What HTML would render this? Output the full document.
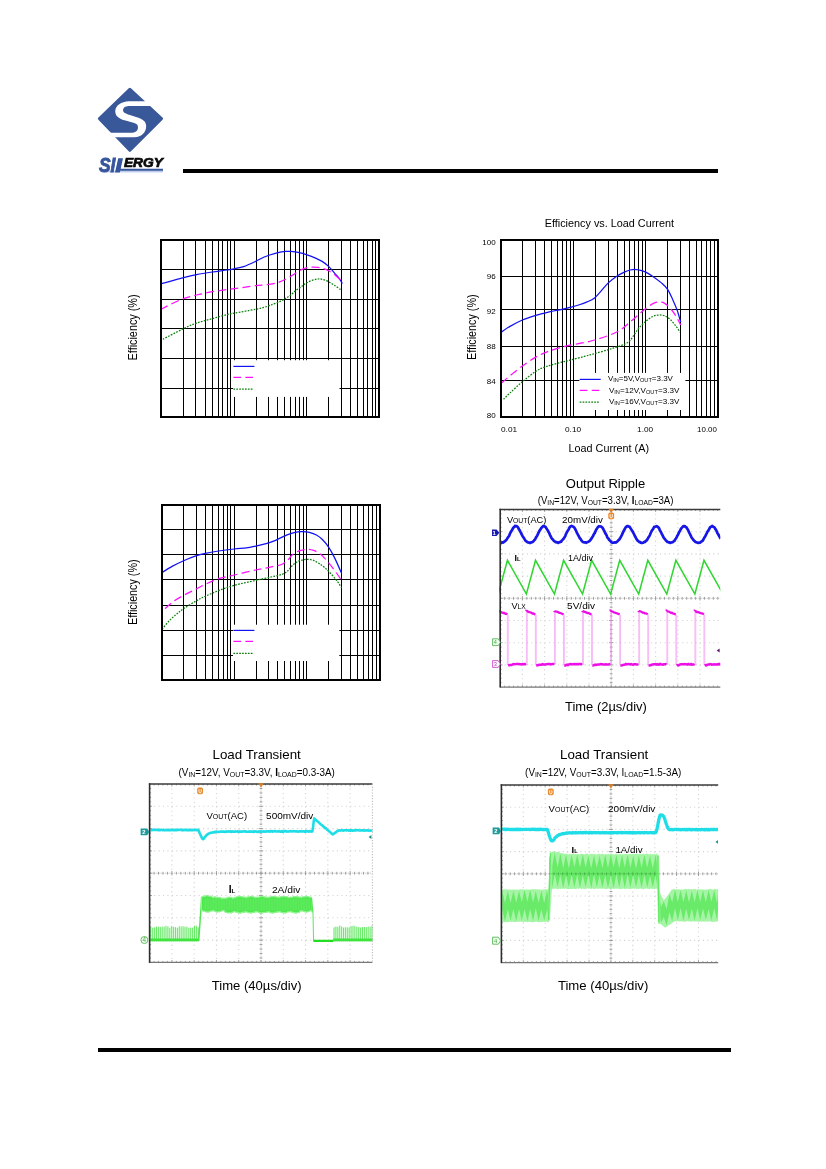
<!DOCTYPE html>
<html><head><meta charset="utf-8"><title>Typical Performance Characteristics</title>
<style>html,body{margin:0;padding:0;background:#fff}body{width:826px;height:1169px;overflow:hidden;font-family:"Liberation Sans",sans-serif}svg{display:block;will-change:transform;opacity:0.999}text{font-family:"Liberation Sans",sans-serif}</style>
</head><body>
<svg width="826" height="1169" viewBox="0 0 826 1169">
<rect x="0" y="0" width="826" height="1169" fill="#fff"/>
<rect x="183" y="169" width="535" height="4" fill="#000"/>
<rect x="98" y="1048" width="633" height="4" fill="#000"/>
<g id="logo">
<path d="M129.87 89.53L161.43 118.57L129.87 150.21L99.53 118.57Z" fill="#38589a" stroke="#38589a" stroke-width="3.2" stroke-linejoin="round"/>
<path d="M161.26 101.13L129 101.13C121.16 101.56 115.49 105.05 115.23 111.16C115.23 117.26 121.16 119.44 126.39 120.75L134.23 122.93C137.72 123.97 138.33 125.98 137.89 128.59C137.37 131.64 134.23 132.78 131.62 132.78L98.49 132.78L98.49 137.31L134.23 137.31C142.08 136.87 146.18 132.08 146.18 125.98C146.18 120.75 141.21 118.57 136.85 117.26L129.87 115.08C124.64 113.6 122.72 112.03 123.07 109.85C123.42 106.8 126.39 105.92 129.87 105.92L161.26 105.92Z" fill="#fff"/>
<rect x="104" y="170.5" width="59" height="1.9" fill="#bccbea"/>
<path d="M115 172.4L118.2 158.2H123L120.7 168.7H163V170.7H120.2L119.8 172.4Z" fill="#36559c"/>
<text x="98.9" y="172.3" font-size="20" textLength="16.4" lengthAdjust="spacingAndGlyphs" font-weight="bold" font-style="italic" fill="#36559c" stroke="#36559c" stroke-width="0.9">SI</text>
<text x="123.9" y="167.1" font-size="12.4" textLength="39" lengthAdjust="spacingAndGlyphs" font-weight="bold" font-style="italic" fill="#0a0a0a" stroke="#0a0a0a" stroke-width="0.7">ERGY</text>
</g>
<g>
<path d="M183.07 240V417M195.97 240V417M205.13 240V417M212.23 240V417M218.04 240V417M222.95 240V417M227.2 240V417M230.95 240V417M234.3 240V417M256.06 240V417M268.8 240V417M277.83 240V417M284.84 240V417M290.56 240V417M295.4 240V417M299.59 240V417M303.29 240V417M306.6 240V417M328.45 240V417M341.24 240V417M350.31 240V417M357.35 240V417M363.09 240V417M367.95 240V417M372.16 240V417M375.88 240V417M161 269.6H379.2M161 299.3H379.2M161 328.9H379.2M161 358.6H379.2M161 388.1H379.2" stroke="#000" stroke-width="1" fill="none" shape-rendering="crispEdges"/>
<path d="M160.7 283.9C164.52 282.85 177.62 279.15 183.6 277.6C189.58 276.05 191.8 275.53 196.6 274.6C201.4 273.67 207.32 272.77 212.4 272C217.48 271.23 223.38 270.57 227.1 270C230.82 269.43 231.95 269.17 234.7 268.6C237.45 268.03 240.12 267.8 243.6 266.6C247.08 265.4 252.27 262.95 255.6 261.4C258.93 259.85 261.25 258.37 263.6 257.3C265.95 256.23 267.32 255.78 269.7 255C272.08 254.22 275.23 253.2 277.9 252.6C280.57 252 283.57 251.6 285.7 251.4C287.83 251.2 288.43 251.2 290.7 251.4C292.97 251.6 296.68 252.07 299.3 252.6C301.92 253.13 303.78 253.72 306.4 254.6C309.02 255.48 312.38 256.77 315 257.9C317.62 259.03 319.83 259.98 322.1 261.4C324.37 262.82 326.45 264.37 328.6 266.4C330.75 268.43 333.22 271.57 335 273.6C336.78 275.63 338.07 276.93 339.3 278.6C340.53 280.27 341.88 282.77 342.4 283.6" stroke="#1212f5" stroke-width="1.25" fill="none"/>
<path d="M160.7 309.6C162.13 308.83 165.48 306.83 169.3 305C173.12 303.17 179.05 300.27 183.6 298.6C188.15 296.93 191.8 296.15 196.6 295C201.4 293.85 207.32 292.6 212.4 291.7C217.48 290.8 223.38 290.12 227.1 289.6C230.82 289.08 229.95 289.25 234.7 288.6C239.45 287.95 250.55 286.33 255.6 285.7C260.65 285.07 262 285.15 265 284.8C268 284.45 271.22 284.05 273.6 283.6C275.98 283.15 277.28 282.82 279.3 282.1C281.32 281.38 283.8 280.25 285.7 279.3C287.6 278.35 289.03 277.43 290.7 276.4C292.37 275.37 294.15 274.12 295.7 273.1C297.25 272.08 298.22 271.17 300 270.3C301.78 269.43 304.38 268.43 306.4 267.9C308.42 267.37 310.18 267.18 312.1 267.1C314.02 267.02 315.98 267.15 317.9 267.4C319.82 267.65 321.82 268.05 323.6 268.6C325.38 269.15 326.7 269.63 328.6 270.7C330.5 271.77 332.75 273.22 335 275C337.25 276.78 340.92 280.33 342.1 281.4" stroke="#ff10ff" stroke-width="1.25" fill="none" stroke-dasharray="8 4.2"/>
<path d="M162.9 339.3C166.35 337.52 177.98 331.3 183.6 328.6C189.22 325.9 191.8 324.77 196.6 323.1C201.4 321.43 207.32 320.02 212.4 318.6C217.48 317.18 223.38 315.52 227.1 314.6C230.82 313.68 229.95 313.98 234.7 313.1C239.45 312.22 250.55 310.3 255.6 309.3C260.65 308.3 262 307.98 265 307.1C268 306.22 270.98 305 273.6 304C276.22 303 278.68 302.05 280.7 301.1C282.72 300.15 284.03 299.32 285.7 298.3C287.37 297.28 289.03 296.27 290.7 295C292.37 293.73 293.72 292.25 295.7 290.7C297.68 289.15 300.82 286.97 302.6 285.7C304.38 284.43 304.82 284 306.4 283.1C307.98 282.2 310.18 280.98 312.1 280.3C314.02 279.62 316.23 279.17 317.9 279C319.57 278.83 320.32 278.85 322.1 279.3C323.88 279.75 326.45 280.63 328.6 281.7C330.75 282.77 332.98 284.38 335 285.7C337.02 287.02 339.75 288.95 340.7 289.6" stroke="#0a800a" stroke-width="1.25" fill="none" stroke-dasharray="1.7 1.3"/>
<rect x="233" y="360.2" width="106.5" height="36.7" fill="#fff"/>
<path d="M233.4 366.4h21" stroke="#1212f5" stroke-width="1.2"/>
<path d="M233.4 377.3h7.6M245.4 377.3h7.6" stroke="#ff10ff" stroke-width="1.2"/>
<path d="M233.4 389.2h19.6" stroke="#0a800a" stroke-width="1.2" stroke-dasharray="1.7 1.2"/>
<rect x="161" y="240" width="218.2" height="177" fill="none" stroke="#000" stroke-width="2" shape-rendering="crispEdges"/>
</g>
<text x="137.3" y="360.4" font-size="12" textLength="66" lengthAdjust="spacingAndGlyphs" fill="#000" transform="rotate(-90 137.3 360.4)">Efficiency (%)</text>
<g>
<path d="M522.85 240V416.7M535.64 240V416.7M544.71 240V416.7M551.75 240V416.7M557.49 240V416.7M562.35 240V416.7M566.56 240V416.7M570.28 240V416.7M573.6 240V416.7M595.3 240V416.7M608 240V416.7M617.01 240V416.7M624 240V416.7M629.7 240V416.7M634.53 240V416.7M638.71 240V416.7M642.4 240V416.7M645.7 240V416.7M667.46 240V416.7M680.2 240V416.7M689.23 240V416.7M696.24 240V416.7M701.96 240V416.7M706.8 240V416.7M710.99 240V416.7M714.69 240V416.7M501 276.3H718M501 309.6H718M501 346.2H718M501 380.4H718" stroke="#000" stroke-width="1" fill="none" shape-rendering="crispEdges"/>
<path d="M501.4 332.1C502.83 331.15 506.5 328.42 510 326.4C513.5 324.38 518.12 321.83 522.4 320C526.68 318.17 532 316.55 535.7 315.4C539.4 314.25 541.98 313.77 544.6 313.1C547.22 312.43 548.52 312.03 551.4 311.4C554.28 310.77 558.8 309.97 561.9 309.3C565 308.63 567.22 308.12 570 307.4C572.78 306.68 575.75 305.92 578.6 305C581.45 304.08 584.43 303.08 587.1 301.9C589.77 300.72 592.22 299.77 594.6 297.9C596.98 296.03 599.12 293.2 601.4 290.7C603.68 288.2 605.8 285.28 608.3 282.9C610.8 280.52 613.73 278.2 616.4 276.4C619.07 274.6 622.03 273.17 624.3 272.1C626.57 271.03 628.27 270.47 630 270C631.73 269.53 633.2 269.3 634.7 269.3C636.2 269.3 637.17 269.53 639 270C640.83 270.47 643.38 271.03 645.7 272.1C648.02 273.17 650.28 274.6 652.9 276.4C655.52 278.2 658.95 280.75 661.4 282.9C663.85 285.05 665.68 286.45 667.6 289.3C669.52 292.15 671.32 296.55 672.9 300C674.48 303.45 675.8 306.32 677.1 310C678.4 313.68 680.1 320.08 680.7 322.1" stroke="#1212f5" stroke-width="1.25" fill="none"/>
<path d="M501.4 383.1C502.83 381.87 506.5 378.55 510 375.7C513.5 372.85 518.12 369.1 522.4 366C526.68 362.9 532 359.28 535.7 357.1C539.4 354.92 541.98 354.03 544.6 352.9C547.22 351.77 548.52 351.27 551.4 350.3C554.28 349.33 558.8 347.95 561.9 347.1C565 346.25 566.27 345.95 570 345.2C573.73 344.45 580.2 343.47 584.3 342.6C588.4 341.73 590.57 341.18 594.6 340C598.63 338.82 604.27 337.12 608.5 335.5C612.73 333.88 616.42 332.53 620 330.3C623.58 328.07 626.83 324.77 630 322.1C633.17 319.43 636.38 316.55 639 314.3C641.62 312.05 643.38 310.38 645.7 308.6C648.02 306.82 650.75 304.68 652.9 303.6C655.05 302.52 656.7 302.18 658.6 302.1C660.5 302.02 662.4 302.13 664.3 303.1C666.2 304.07 668.1 305.8 670 307.9C671.9 310 673.92 312.85 675.7 315.7C677.48 318.55 679.87 323.45 680.7 325" stroke="#ff10ff" stroke-width="1.25" fill="none" stroke-dasharray="8 4.2"/>
<path d="M503.6 399.3C504.67 398.23 506.87 395.83 510 392.9C513.13 389.97 518.12 385.28 522.4 381.7C526.68 378.12 532 373.83 535.7 371.4C539.4 368.97 541.98 368.17 544.6 367.1C547.22 366.03 548.52 365.83 551.4 365C554.28 364.17 558.8 362.9 561.9 362.1C565 361.3 566.27 361.15 570 360.2C573.73 359.25 580.2 357.5 584.3 356.4C588.4 355.3 590.6 354.72 594.6 353.6C598.6 352.48 604.67 350.78 608.3 349.7C611.93 348.62 613.73 348 616.4 347.1C619.07 346.2 622.03 345.4 624.3 344.3C626.57 343.2 628.27 342.22 630 340.5C631.73 338.78 633.2 336.1 634.7 334C636.2 331.9 637.17 330 639 327.9C640.83 325.8 643.38 323.32 645.7 321.4C648.02 319.48 650.75 317.47 652.9 316.4C655.05 315.33 656.7 315.12 658.6 315C660.5 314.88 662.4 314.98 664.3 315.7C666.2 316.42 668.1 317.63 670 319.3C671.9 320.97 674.03 323.57 675.7 325.7C677.37 327.83 679.28 331.03 680 332.1" stroke="#0a800a" stroke-width="1.25" fill="none" stroke-dasharray="1.7 1.3"/>
<rect x="579.3" y="372.9" width="106.1" height="37.1" fill="#fff"/>
<path d="M579.7 379.4h21" stroke="#1212f5" stroke-width="1.2"/>
<path d="M579.7 390.4h7.6M591.7 390.4h7.6" stroke="#ff10ff" stroke-width="1.2"/>
<path d="M579.7 402.1h19.6" stroke="#0a800a" stroke-width="1.2" stroke-dasharray="1.7 1.2"/>
<rect x="501" y="240" width="217" height="176.7" fill="none" stroke="#000" stroke-width="2" shape-rendering="crispEdges"/>
</g>
<text x="544.7" y="227.1" font-size="11" textLength="129.3" lengthAdjust="spacingAndGlyphs" fill="#000">Efficiency vs. Load Current</text>
<text x="476.1" y="360" font-size="12" textLength="65.6" lengthAdjust="spacingAndGlyphs" fill="#000" transform="rotate(-90 476.1 360)">Efficiency (%)</text>
<text x="495.6" y="245" font-size="8" text-anchor="end" fill="#000">100</text>
<text x="495.6" y="279" font-size="8" text-anchor="end" fill="#000">96</text>
<text x="495.6" y="314" font-size="8" text-anchor="end" fill="#000">92</text>
<text x="495.6" y="349" font-size="8" text-anchor="end" fill="#000">88</text>
<text x="495.6" y="384.3" font-size="8" text-anchor="end" fill="#000">84</text>
<text x="495.6" y="418" font-size="8" text-anchor="end" fill="#000">80</text>
<text x="501" y="431.9" font-size="8" textLength="16.1" lengthAdjust="spacingAndGlyphs" fill="#000">0.01</text>
<text x="565" y="431.9" font-size="8" textLength="16.1" lengthAdjust="spacingAndGlyphs" fill="#000">0.10</text>
<text x="637.1" y="431.9" font-size="8" textLength="16" lengthAdjust="spacingAndGlyphs" fill="#000">1.00</text>
<text x="697.1" y="431.9" font-size="8" textLength="19.8" lengthAdjust="spacingAndGlyphs" fill="#000">10.00</text>
<text x="568.6" y="451.6" font-size="11" textLength="80.4" lengthAdjust="spacingAndGlyphs" fill="#000">Load Current (A)</text>
<text x="607.9" y="381.1" font-size="8" textLength="65" lengthAdjust="spacingAndGlyphs" fill="#000"><tspan font-size="8">V</tspan><tspan font-size="5.6" dy="1.1">IN</tspan><tspan font-size="8" dy="-1.1">=5V,V</tspan><tspan font-size="5.6" dy="1.1">OUT</tspan><tspan font-size="8" dy="-1.1">=3.3V</tspan></text>
<text x="608.9" y="392.9" font-size="8" textLength="70.4" lengthAdjust="spacingAndGlyphs" fill="#000"><tspan font-size="8">V</tspan><tspan font-size="5.6" dy="1.1">IN</tspan><tspan font-size="8" dy="-1.1">=12V,V</tspan><tspan font-size="5.6" dy="1.1">OUT</tspan><tspan font-size="8" dy="-1.1">=3.3V</tspan></text>
<text x="608.9" y="404.3" font-size="8" textLength="70.4" lengthAdjust="spacingAndGlyphs" fill="#000"><tspan font-size="8">V</tspan><tspan font-size="5.6" dy="1.1">IN</tspan><tspan font-size="8" dy="-1.1">=16V,V</tspan><tspan font-size="5.6" dy="1.1">OUT</tspan><tspan font-size="8" dy="-1.1">=3.3V</tspan></text>
<g>
<path d="M183.76 505V680.3M196.5 505V680.3M205.53 505V680.3M212.54 505V680.3M218.26 505V680.3M223.1 505V680.3M227.29 505V680.3M230.99 505V680.3M234.3 505V680.3M256.06 505V680.3M268.8 505V680.3M277.83 505V680.3M284.84 505V680.3M290.56 505V680.3M295.4 505V680.3M299.59 505V680.3M303.29 505V680.3M306.6 505V680.3M328.7 505V680.3M341.62 505V680.3M350.79 505V680.3M357.9 505V680.3M363.72 505V680.3M368.63 505V680.3M372.89 505V680.3M376.64 505V680.3M162 529.6H380M162 554.7H380M162 579.8H380M162 605H380M162 630.2H380M162 655.3H380" stroke="#000" stroke-width="1" fill="none" shape-rendering="crispEdges"/>
<path d="M161.4 572.9C163.18 571.82 168.4 568.43 172.1 566.4C175.8 564.37 179.52 562.48 183.6 560.7C187.68 558.92 192.97 556.93 196.6 555.7C200.23 554.47 201.73 554.08 205.4 553.3C209.07 552.52 213.78 551.72 218.6 551C223.42 550.28 229.67 549.52 234.3 549C238.93 548.48 242.83 548.38 246.4 547.9C249.97 547.42 252.6 546.77 255.7 546.1C258.8 545.43 262.02 544.72 265 543.9C267.98 543.08 270.75 542.33 273.6 541.2C276.45 540.07 279.25 538.37 282.1 537.1C284.95 535.83 288.07 534.47 290.7 533.6C293.33 532.73 295.87 532.23 297.9 531.9C299.93 531.57 301 531.52 302.9 531.6C304.8 531.68 307.05 531.83 309.3 532.4C311.55 532.97 314.27 533.85 316.4 535C318.53 536.15 320.07 537.28 322.1 539.3C324.13 541.32 326.45 543.88 328.6 547.1C330.75 550.32 332.82 554.18 335 558.6C337.18 563.02 340.58 571.1 341.7 573.6" stroke="#1212f5" stroke-width="1.25" fill="none"/>
<path d="M165 608.6C166.43 607.4 170.5 603.62 173.6 601.4C176.7 599.18 180.27 597.13 183.6 595.3C186.93 593.47 189.97 592.23 193.6 590.4C197.23 588.57 201.23 586.27 205.4 584.3C209.57 582.33 213.78 580.15 218.6 578.6C223.42 577.05 228.12 576.43 234.3 575C240.48 573.57 250.58 571.13 255.7 570C260.82 568.87 262.02 568.8 265 568.2C267.98 567.6 270.75 567.05 273.6 566.4C276.45 565.75 279.72 565.37 282.1 564.3C284.48 563.23 286.23 561.55 287.9 560C289.57 558.45 290.43 556.43 292.1 555C293.77 553.57 296.1 552.23 297.9 551.4C299.7 550.57 301.23 550.35 302.9 550C304.57 549.65 306.12 549.23 307.9 549.3C309.68 549.37 311.7 549.73 313.6 550.4C315.5 551.07 317.4 551.93 319.3 553.3C321.2 554.67 322.87 556.3 325 558.6C327.13 560.9 329.95 564.37 332.1 567.1C334.25 569.83 336.3 572.73 337.9 575C339.5 577.27 341.07 579.75 341.7 580.7" stroke="#ff10ff" stroke-width="1.25" fill="none" stroke-dasharray="8 4.2"/>
<path d="M162.1 629.3C163.3 627.87 166.92 623.2 169.3 620.7C171.68 618.2 174.02 616.32 176.4 614.3C178.78 612.28 180.23 610.87 183.6 608.6C186.97 606.33 192.97 602.77 196.6 600.7C200.23 598.63 201.73 597.88 205.4 596.2C209.07 594.52 213.78 592.42 218.6 590.6C223.42 588.78 228.12 587 234.3 585.3C240.48 583.6 250.58 581.57 255.7 580.4C260.82 579.23 262.02 578.97 265 578.3C267.98 577.63 270.75 577.07 273.6 576.4C276.45 575.73 279.72 575.25 282.1 574.3C284.48 573.35 286.23 572.13 287.9 570.7C289.57 569.27 290.43 567.25 292.1 565.7C293.77 564.15 296.1 562.35 297.9 561.4C299.7 560.45 301.23 560.35 302.9 560C304.57 559.65 306.12 559.23 307.9 559.3C309.68 559.37 311.7 559.68 313.6 560.4C315.5 561.12 317.4 562.35 319.3 563.6C321.2 564.85 322.87 566 325 567.9C327.13 569.8 329.95 572.63 332.1 575C334.25 577.37 336.3 579.95 337.9 582.1C339.5 584.25 341.07 586.93 341.7 587.9" stroke="#0a800a" stroke-width="1.25" fill="none" stroke-dasharray="1.7 1.3"/>
<rect x="233" y="624.7" width="106.3" height="36.3" fill="#fff"/>
<path d="M233.4 630.4h21" stroke="#1212f5" stroke-width="1.2"/>
<path d="M233.4 641.4h7.6M245.4 641.4h7.6" stroke="#ff10ff" stroke-width="1.2"/>
<path d="M233.4 653.3h19.6" stroke="#0a800a" stroke-width="1.2" stroke-dasharray="1.7 1.2"/>
<rect x="162" y="505" width="218" height="175.3" fill="none" stroke="#000" stroke-width="1.9" shape-rendering="crispEdges"/>
</g>
<text x="137.3" y="625" font-size="12" textLength="65.6" lengthAdjust="spacingAndGlyphs" fill="#000" transform="rotate(-90 137.3 625)">Efficiency (%)</text>
<clipPath id="k1"><rect x="499.2" y="508.5" width="221.1" height="179.6"/></clipPath>
<g clip-path="url(#k1)">
<path d="M522.4 509.5V687.1M544.6 509.5V687.1M566.8 509.5V687.1M589 509.5V687.1M633.4 509.5V687.1M655.6 509.5V687.1M677.8 509.5V687.1M700 509.5V687.1" stroke="#d2d2d2" stroke-width="1.1" stroke-dasharray="1.1 3.34" fill="none"/>
<path d="M500.2 531.7H722.2M500.2 553.9H722.2M500.2 576.1H722.2M500.2 620.5H722.2M500.2 642.7H722.2M500.2 664.9H722.2" stroke="#d2d2d2" stroke-width="1.1" stroke-dasharray="1.1 3.34" fill="none"/>
<path d="M611.2 509.5V687.1M500.2 598.3H722.2" stroke="#8a8a8a" stroke-width="0.9" stroke-dasharray="1.4 0.8" fill="none" opacity="0.55"/>
<path d="M504.64 596.9v2.8M509.08 596.9v2.8M513.52 596.9v2.8M517.96 596.9v2.8M522.4 596.1v4.4M526.84 596.9v2.8M531.28 596.9v2.8M535.72 596.9v2.8M540.16 596.9v2.8M544.6 596.1v4.4M549.04 596.9v2.8M553.48 596.9v2.8M557.92 596.9v2.8M562.36 596.9v2.8M566.8 596.1v4.4M571.24 596.9v2.8M575.68 596.9v2.8M580.12 596.9v2.8M584.56 596.9v2.8M589 596.1v4.4M593.44 596.9v2.8M597.88 596.9v2.8M602.32 596.9v2.8M606.76 596.9v2.8M611.2 596.1v4.4M615.64 596.9v2.8M620.08 596.9v2.8M624.52 596.9v2.8M628.96 596.9v2.8M633.4 596.1v4.4M637.84 596.9v2.8M642.28 596.9v2.8M646.72 596.9v2.8M651.16 596.9v2.8M655.6 596.1v4.4M660.04 596.9v2.8M664.48 596.9v2.8M668.92 596.9v2.8M673.36 596.9v2.8M677.8 596.1v4.4M682.24 596.9v2.8M686.68 596.9v2.8M691.12 596.9v2.8M695.56 596.9v2.8M700 596.1v4.4M704.44 596.9v2.8M708.88 596.9v2.8M713.32 596.9v2.8M717.76 596.9v2.8M609.8 513.94h2.8M609.8 518.38h2.8M609.8 522.82h2.8M609.8 527.26h2.8M609 531.7h4.4M609.8 536.14h2.8M609.8 540.58h2.8M609.8 545.02h2.8M609.8 549.46h2.8M609 553.9h4.4M609.8 558.34h2.8M609.8 562.78h2.8M609.8 567.22h2.8M609.8 571.66h2.8M609 576.1h4.4M609.8 580.54h2.8M609.8 584.98h2.8M609.8 589.42h2.8M609.8 593.86h2.8M609 598.3h4.4M609.8 602.74h2.8M609.8 607.18h2.8M609.8 611.62h2.8M609.8 616.06h2.8M609 620.5h4.4M609.8 624.94h2.8M609.8 629.38h2.8M609.8 633.82h2.8M609.8 638.26h2.8M609 642.7h4.4M609.8 647.14h2.8M609.8 651.58h2.8M609.8 656.02h2.8M609.8 660.46h2.8M609 664.9h4.4M609.8 669.34h2.8M609.8 673.78h2.8M609.8 678.22h2.8M609.8 682.66h2.8" stroke="#8a8a8a" stroke-width="0.8" fill="none"/>
<path d="M504.64 509.5v1.5M504.64 687.1v-1.5M509.08 509.5v1.5M509.08 687.1v-1.5M513.52 509.5v1.5M513.52 687.1v-1.5M517.96 509.5v1.5M517.96 687.1v-1.5M522.4 509.5v2.4M522.4 687.1v-2.4M526.84 509.5v1.5M526.84 687.1v-1.5M531.28 509.5v1.5M531.28 687.1v-1.5M535.72 509.5v1.5M535.72 687.1v-1.5M540.16 509.5v1.5M540.16 687.1v-1.5M544.6 509.5v2.4M544.6 687.1v-2.4M549.04 509.5v1.5M549.04 687.1v-1.5M553.48 509.5v1.5M553.48 687.1v-1.5M557.92 509.5v1.5M557.92 687.1v-1.5M562.36 509.5v1.5M562.36 687.1v-1.5M566.8 509.5v2.4M566.8 687.1v-2.4M571.24 509.5v1.5M571.24 687.1v-1.5M575.68 509.5v1.5M575.68 687.1v-1.5M580.12 509.5v1.5M580.12 687.1v-1.5M584.56 509.5v1.5M584.56 687.1v-1.5M589 509.5v2.4M589 687.1v-2.4M593.44 509.5v1.5M593.44 687.1v-1.5M597.88 509.5v1.5M597.88 687.1v-1.5M602.32 509.5v1.5M602.32 687.1v-1.5M606.76 509.5v1.5M606.76 687.1v-1.5M611.2 509.5v2.4M611.2 687.1v-2.4M615.64 509.5v1.5M615.64 687.1v-1.5M620.08 509.5v1.5M620.08 687.1v-1.5M624.52 509.5v1.5M624.52 687.1v-1.5M628.96 509.5v1.5M628.96 687.1v-1.5M633.4 509.5v2.4M633.4 687.1v-2.4M637.84 509.5v1.5M637.84 687.1v-1.5M642.28 509.5v1.5M642.28 687.1v-1.5M646.72 509.5v1.5M646.72 687.1v-1.5M651.16 509.5v1.5M651.16 687.1v-1.5M655.6 509.5v2.4M655.6 687.1v-2.4M660.04 509.5v1.5M660.04 687.1v-1.5M664.48 509.5v1.5M664.48 687.1v-1.5M668.92 509.5v1.5M668.92 687.1v-1.5M673.36 509.5v1.5M673.36 687.1v-1.5M677.8 509.5v2.4M677.8 687.1v-2.4M682.24 509.5v1.5M682.24 687.1v-1.5M686.68 509.5v1.5M686.68 687.1v-1.5M691.12 509.5v1.5M691.12 687.1v-1.5M695.56 509.5v1.5M695.56 687.1v-1.5M700 509.5v2.4M700 687.1v-2.4M704.44 509.5v1.5M704.44 687.1v-1.5M708.88 509.5v1.5M708.88 687.1v-1.5M713.32 509.5v1.5M713.32 687.1v-1.5M717.76 509.5v1.5M717.76 687.1v-1.5M500.2 513.94h1.5M500.2 518.38h1.5M500.2 522.82h1.5M500.2 527.26h1.5M500.2 531.7h2.4M500.2 536.14h1.5M500.2 540.58h1.5M500.2 545.02h1.5M500.2 549.46h1.5M500.2 553.9h2.4M500.2 558.34h1.5M500.2 562.78h1.5M500.2 567.22h1.5M500.2 571.66h1.5M500.2 576.1h2.4M500.2 580.54h1.5M500.2 584.98h1.5M500.2 589.42h1.5M500.2 593.86h1.5M500.2 598.3h2.4M500.2 602.74h1.5M500.2 607.18h1.5M500.2 611.62h1.5M500.2 616.06h1.5M500.2 620.5h2.4M500.2 624.94h1.5M500.2 629.38h1.5M500.2 633.82h1.5M500.2 638.26h1.5M500.2 642.7h2.4M500.2 647.14h1.5M500.2 651.58h1.5M500.2 656.02h1.5M500.2 660.46h1.5M500.2 664.9h2.4M500.2 669.34h1.5M500.2 673.78h1.5M500.2 678.22h1.5M500.2 682.66h1.5" stroke="#8c8c8c" stroke-width="0.8" fill="none"/>
</g>
<g clip-path="url(#k1)">
<path d="M500.2 542.34L500.9 542.39L501.6 542.81L502.3 542.36L503 542.53L503.7 542.14L504.4 541.54L505.1 541.33L505.8 540.34L506.5 539.8L507.2 538.58L507.9 537.49L508.6 536.49L509.3 535.43L510 533.54L510.7 532.19L511.4 531.08L512.1 530L512.8 528.57L513.5 527.46L514.2 527.11L514.9 525.98L515.6 526.35L516.3 526.06L517 526.36L517.7 527.02L518.4 528.08L519.1 529.56L519.8 530.39L520.5 532.04L521.2 533.5L521.9 534.72L522.6 536.2L523.3 537.13L524 538.27L524.7 539.38L525.4 540.57L526.1 541.1L526.8 541.58L527.5 542.2L528.2 542.41L528.9 542.48L529.6 542.9L530.3 542.81L531 542.35L531.7 542.33L532.4 541.92L533.1 541.65L533.8 540.9L534.5 539.8L535.2 539.33L535.9 537.64L536.6 536.63L537.3 535.54L538 533.73L538.7 532.54L539.4 530.83L540.1 529.95L540.8 528.83L541.5 527.68L542.2 527.11L542.9 526.21L543.6 526.25L544.3 526.25L545 526.61L545.7 527.17L546.4 528.33L547.1 529.51L547.8 530.44L548.5 531.94L549.2 532.93L549.9 534.79L550.6 536.12L551.3 537.64L552 538.68L552.7 539.33L553.4 540.27L554.1 541.19L554.8 541.32L555.5 542.07L556.2 542.18L556.9 542.34L557.6 542.39L558.3 542.86L559 542.29L559.7 542.13L560.4 541.87L561.1 541.72L561.8 540.53L562.5 540.01L563.2 539.15L563.9 538.31L564.6 537.06L565.3 535.77L566 533.98L566.7 532.65L567.4 531.21L568.1 530.24L568.8 529.09L569.5 527.49L570.2 526.7L570.9 526.19L571.6 525.93L572.3 526.15L573 526.56L573.7 526.95L574.4 527.63L575.1 529.01L575.8 530.22L576.5 531.71L577.2 533.39L577.9 534.63L578.6 535.88L579.3 537.24L580 538.45L580.7 539.05L581.4 540.54L582.1 541.2L582.8 541.86L583.5 542.26L584.2 542.31L584.9 542.52L585.6 542.41L586.3 542.78L587 542.26L587.7 542.04L588.4 541.79L589.1 541.28L589.8 540.79L590.5 539.83L591.2 538.88L591.9 537.92L592.6 536.7L593.3 535.58L594 533.96L594.7 533.14L595.4 531.55L596.1 529.88L596.8 528.72L597.5 527.74L598.2 526.91L598.9 526.17L599.6 526.38L600.3 526.48L601 526.42L601.7 527.02L602.4 527.58L603.1 528.65L603.8 530.05L604.5 531.34L605.2 533.14L605.9 534.09L606.6 535.38L607.3 537.33L608 538.22L608.7 539.01L609.4 540.19L610.1 540.59L610.8 541.56L611.5 542.34L612.2 542.6L612.9 542.71L613.6 542.52L614.3 542.6L615 542.35L615.7 542.56L616.4 542.06L617.1 541.78L617.8 540.86L618.5 540.04L619.2 539.56L619.9 538.64L620.6 537.36L621.3 536.04L622 534.67L622.7 533.2L623.4 531.43L624.1 530.28L624.8 528.93L625.5 527.62L626.2 526.76L626.9 526.33L627.6 525.99L628.3 526.26L629 526.71L629.7 526.91L630.4 528.07L631.1 529.14L631.8 530.33L632.5 531.25L633.2 532.56L633.9 533.98L634.6 535.34L635.3 536.66L636 538.16L636.7 539.42L637.4 540.31L638.1 540.83L638.8 541.58L639.5 542.17L640.2 542.03L640.9 542.67L641.6 542.96L642.3 542.89L643 542.78L643.7 542.39L644.4 541.86L645.1 541.84L645.8 540.94L646.5 540.54L647.2 539.78L647.9 538.35L648.6 537.19L649.3 536.29L650 534.77L650.7 532.97L651.4 531.52L652.1 530.18L652.8 529.45L653.5 528.28L654.2 526.93L654.9 526.77L655.6 526.51L656.3 526.22L657 526.24L657.7 526.9L658.4 527.4L659.1 528.33L659.8 530.2L660.5 531.3L661.2 532.61L661.9 534.31L662.6 535.36L663.3 536.98L664 538.17L664.7 538.82L665.4 539.8L666.1 540.62L666.8 541.23L667.5 541.97L668.2 542.11L668.9 542.48L669.6 542.41L670.3 542.98L671 542.52L671.7 542.4L672.4 542.19L673.1 541.98L673.8 541.08L674.5 540.71L675.2 539.56L675.9 538.57L676.6 537.41L677.3 535.79L678 534.73L678.7 533.14L679.4 531.6L680.1 530.78L680.8 529.07L681.5 528.16L682.2 527.43L682.9 526.64L683.6 526.08L684.3 526.12L685 526.34L685.7 527L686.4 527.28L687.1 528.59L687.8 529.55L688.5 530.88L689.2 532.62L689.9 533.85L690.6 535.29L691.3 536.76L692 538.1L692.7 538.87L693.4 539.95L694.1 540.68L694.8 541.35L695.5 542L696.2 542.21L696.9 542.53L697.6 542.64L698.3 543.01L699 542.77L699.7 542.72L700.4 542.48L701.1 541.59L701.8 541.25L702.5 540.82L703.2 539.9L703.9 538.42L704.6 537.27L705.3 536.24L706 534.63L706.7 533.34L707.4 531.81L708.1 530.84L708.8 529.64L709.5 528.58L710.2 527.12L710.9 526.81L711.6 526.35L712.3 525.85L713 526.54L713.7 527.05L714.4 527.26L715.1 528.74L715.8 529.51L716.5 530.87L717.2 532.61L717.9 533.92L718.6 534.85L719.3 536.38L720 537.68L720.7 538.68" stroke="#1616e6" stroke-width="2.7" fill="none" stroke-linejoin="round"/>
<path d="M470.24 594L479.34 560.3L498.32 594L507.42 560.3L526.4 594L535.5 560.3L554.48 594L563.58 560.3L582.56 594L591.66 560.3L610.64 594L619.74 560.3L638.72 594L647.82 560.3L666.8 594L675.9 560.3L694.88 594L703.98 560.3L722.96 594L732.06 560.3" stroke="#2fd62f" stroke-width="1.5" fill="none" stroke-linejoin="miter"/>
<path d="M470.24 665V611.2M479.24 613.6V665M471.14 665V612M480.14 615V665M498.32 665V611.2M507.32 613.6V665M499.22 665V612M508.22 615V665M526.4 665V611.2M535.4 613.6V665M527.3 665V612M536.3 615V665M554.48 665V611.2M563.48 613.6V665M555.38 665V612M564.38 615V665M582.56 665V611.2M591.56 613.6V665M583.46 665V612M592.46 615V665M610.64 665V611.2M619.64 613.6V665M611.54 665V612M620.54 615V665M638.72 665V611.2M647.72 613.6V665M639.62 665V612M648.62 615V665M666.8 665V611.2M675.8 613.6V665M667.7 665V612M676.7 615V665M694.88 665V611.2M703.88 613.6V665M695.78 665V612M704.78 615V665M722.96 665V611.2M731.96 613.6V665M723.86 665V612M732.86 615V665" stroke="#f08af0" stroke-width="0.8" fill="none" opacity="0.7"/>
<path d="M470.24 611L470.24 610.82L471.24 611.26L472.24 611.87L473.24 611.81L474.24 612.5L475.24 612.8L476.24 612.91L477.24 613.47L478.24 614.01L479.24 614.4M498.32 611L498.32 611.11L499.32 611.32L500.32 611.48L501.32 612.36L502.32 612.55L503.32 613.01L504.32 612.95L505.32 613.78L506.32 613.67L507.32 614.4M526.4 611L526.4 610.85L527.4 611.08L528.4 611.87L529.4 612.13L530.4 612.28L531.4 612.82L532.4 613.46L533.4 613.33L534.4 614.12L535.4 614.4M554.48 611L554.48 611.22L555.48 611.47L556.48 611.6L557.48 611.95L558.48 612.34L559.48 612.81L560.48 612.99L561.48 613.53L562.48 613.79L563.48 614.4M582.56 611L582.56 611.05L583.56 611.38L584.56 611.88L585.56 612.19L586.56 612.6L587.56 613.06L588.56 613.13L589.56 613.46L590.56 614.22L591.56 614.4M610.64 611L610.64 610.78L611.64 611.28L612.64 611.5L613.64 612.3L614.64 612.5L615.64 612.91L616.64 613.28L617.64 613.68L618.64 613.93L619.64 614.4M638.72 611L638.72 611.09L639.72 611.11L640.72 611.52L641.72 611.95L642.72 612.61L643.72 612.72L644.72 613.24L645.72 613.27L646.72 613.67L647.72 614.4M666.8 611L666.8 610.83L667.8 611.42L668.8 611.52L669.8 612.11L670.8 612.74L671.8 612.61L672.8 613.39L673.8 613.57L674.8 614.17L675.8 614.4M694.88 611L694.88 610.92L695.88 611.3L696.88 612.03L697.88 612.15L698.88 612.38L699.88 612.79L700.88 613.07L701.88 613.3L702.88 613.69L703.88 614.4M722.96 611L722.96 610.87L723.96 611.1L724.96 611.99L725.96 611.88L726.96 612.45L727.96 612.74L728.96 613.08L729.96 613.71L730.96 614.22L731.96 614.4" stroke="#ec0fe6" stroke-width="2.3" fill="none"/>
<path d="M480.04 665.45L480.94 664.95L481.84 665.41L482.74 665.09L483.64 665.03L484.54 664.24L485.44 664.17L486.34 663.98L487.24 664.5L488.14 664.14L489.04 664.04L489.94 664.25L490.84 664.59L491.74 664.52L492.64 664.13L493.54 664.05L494.44 664.59L495.34 664.35L496.24 664.44L497.14 664.01L498.04 663.99M508.12 665.69L509.02 665.22L509.92 664.96L510.82 664.92L511.72 665L512.62 664.35L513.52 664.07L514.42 664.32L515.32 664.12L516.22 664.03L517.12 664.06L518.02 663.99L518.92 664.09L519.82 664.17L520.72 664.16L521.62 664.48L522.52 664.15L523.42 664.3L524.32 664.07L525.22 664.19L526.12 663.96M536.2 665.39L537.1 665.25L538 665.3L538.9 664.81L539.8 664.71L540.7 664.65L541.6 664.67L542.5 664.19L543.4 664.53L544.3 664.44L545.2 664.4L546.1 664.23L547 664.19L547.9 663.99L548.8 664.04L549.7 664L550.6 664.47L551.5 664.13L552.4 664.06L553.3 664.01L554.2 664.54M564.28 665.76L565.18 665.58L566.08 665.1L566.98 664.71L567.88 665.03L568.78 664.38L569.68 664.23L570.58 663.95L571.48 664.22L572.38 664.28L573.28 664.3L574.18 664.09L575.08 664.3L575.98 663.95L576.88 664.13L577.78 664.01L578.68 664.23L579.58 663.98L580.48 663.97L581.38 664.16L582.28 664.11M592.36 665.19L593.26 665.41L594.16 665.17L595.06 664.57L595.96 664.94L596.86 664.79L597.76 664.42L598.66 664.46L599.56 664.52L600.46 664.05L601.36 664.32L602.26 664.3L603.16 664.53L604.06 664.51L604.96 664.53L605.86 664.36L606.76 664.57L607.66 664.43L608.56 664.44L609.46 664.11L610.36 663.97M620.44 665.09L621.34 665.46L622.24 665.24L623.14 664.89L624.04 664.73L624.94 664.63L625.84 664.03L626.74 664.47L627.64 664.13L628.54 664L629.44 664.14L630.34 664.46L631.24 664.09L632.14 664.47L633.04 664.63L633.94 664.3L634.84 664.22L635.74 664.29L636.64 664.43L637.54 664.49L638.44 664.38M648.52 665.27L649.42 665.37L650.32 665.2L651.22 665.01L652.12 664.55L653.02 664.53L653.92 664.31L654.82 664.28L655.72 664.03L656.62 664.58L657.52 664.09L658.42 664.63L659.32 664.61L660.22 663.96L661.12 664.27L662.02 664.52L662.92 664.63L663.82 664.26L664.72 664.14L665.62 664.1L666.52 664.61M676.6 665.58L677.5 665.06L678.4 665.35L679.3 664.87L680.2 664.37L681.1 664.17L682 664.33L682.9 664.27L683.8 664.16L684.7 664.05L685.6 664.19L686.5 664.17L687.4 664.54L688.3 663.95L689.2 664.48L690.1 664.54L691 664.03L691.9 664.6L692.8 664.45L693.7 664.58L694.6 664.15M704.68 665.67L705.58 665.1L706.48 665.37L707.38 664.71L708.28 664.54L709.18 664.52L710.08 664.12L710.98 664.21L711.88 664.62L712.78 664.57L713.68 664.52L714.58 664.39L715.48 664.59L716.38 664.61L717.28 664.33L718.18 664.45L719.08 663.98L719.98 664.46L720.88 664.27L721.78 664.48L722.68 664.4M732.76 665.27L733.66 665.36L734.56 664.93L735.46 664.92L736.36 664.63L737.26 664.28L738.16 664.1L739.06 664.1L739.96 664.58L740.86 664.3L741.76 664.1L742.66 664.58L743.56 664.65L744.46 664.26L745.36 664.05L746.26 664.08L747.16 664.01L748.06 664.19L748.96 664.01L749.86 664.12L750.76 664.13" stroke="#ec0fe6" stroke-width="2.5" fill="none"/>
</g>
<path d="M500.2 687.1H720.3" stroke="#777" stroke-width="1.1" fill="none"/>
<path d="M499.5 509.5H720.3" stroke="#3a3a3a" stroke-width="1.5" fill="none"/>
<path d="M500.2 508.8V687.6" stroke="#2e2e2e" stroke-width="1.6" fill="none"/>
<path d="M608.3 508.7h5.8l-2.9 4.2z" fill="#d9822b"/>
<rect x="608.3" y="512.6" width="5.8" height="6.6" rx="1.6" fill="#e8892b"/>
<path d="M610.1 514.2v2.6a1.1 1.1 0 0 0 2.2 0v-2.6" stroke="#fff" stroke-width="0.9" fill="none"/>
<path d="M492 529.4h4.6l2.8 3.3l-2.8 3.3h-4.6z" fill="#1a1ab0"/>
<text x="494.2" y="535.3" font-size="6" text-anchor="middle" font-weight="bold" fill="#fff">1</text>
<path d="M492.6 638.8h5.6l2.2 3.4l-2.2 3.4h-5.6z" fill="#f4fff4" stroke="#3fae3f" stroke-width="0.8"/>
<text x="495.4" y="644.3" font-size="5.6" text-anchor="middle" fill="#3fae3f">4</text>
<path d="M492.6 660.6h5.6l2.2 3.4l-2.2 3.4h-5.6z" fill="#f4fff4" stroke="#cc33cc" stroke-width="0.8"/>
<text x="495.4" y="666.1" font-size="5.6" text-anchor="middle" fill="#cc33cc">3</text>
<path d="M719.6 648.4l-3 2.1l3 2.1z" fill="#5a1a6a"/>
<text x="565.8" y="487.9" font-size="13" textLength="79.4" lengthAdjust="spacingAndGlyphs" fill="#000">Output Ripple</text>
<text x="537.7" y="503.6" font-size="10" textLength="135.8" lengthAdjust="spacingAndGlyphs" fill="#000"><tspan font-size="10">(V</tspan><tspan font-size="7" dy="1.2">IN</tspan><tspan font-size="10" dy="-1.2">=12V, V</tspan><tspan font-size="7" dy="1.2">OUT</tspan><tspan font-size="10" dy="-1.2">=3.3V, </tspan><tspan font-size="10" font-weight="bold">I</tspan><tspan font-size="7" dy="1.2">LOAD</tspan><tspan font-size="10" dy="-1.2">=3A)</tspan></text>
<text x="506.9" y="522.9" font-size="9" textLength="39.5" lengthAdjust="spacingAndGlyphs" fill="#000"><tspan font-size="9">V</tspan><tspan font-size="6.6">OUT</tspan><tspan font-size="9">(AC)</tspan></text>
<text x="562.1" y="522.9" font-size="9" textLength="40.8" lengthAdjust="spacingAndGlyphs" fill="#000">20mV/div</text>
<text x="514.5" y="560.7" font-size="8.8" fill="#000"><tspan font-size="8.8" font-weight="bold">I</tspan><tspan font-size="5.8" font-weight="bold">L</tspan></text>
<text x="567.9" y="560.7" font-size="9" textLength="25" lengthAdjust="spacingAndGlyphs" fill="#000">1A/div</text>
<text x="511.4" y="608.9" font-size="9" textLength="14.3" lengthAdjust="spacingAndGlyphs" fill="#000"><tspan font-size="9">V</tspan><tspan font-size="6.6">LX</tspan></text>
<text x="567.1" y="608.9" font-size="9" textLength="27.9" lengthAdjust="spacingAndGlyphs" fill="#000">5V/div</text>
<text x="565" y="710.8" font-size="13" textLength="81.8" lengthAdjust="spacingAndGlyphs" fill="#000">Time (2&#181;s/div)</text>
<clipPath id="k2"><rect x="148.6" y="783" width="224.4" height="180.4"/></clipPath>
<g clip-path="url(#k2)">
<path d="M171.88 784V962.4M194.16 784V962.4M216.44 784V962.4M238.72 784V962.4M283.28 784V962.4M305.56 784V962.4M327.84 784V962.4M350.12 784V962.4" stroke="#d2d2d2" stroke-width="1.1" stroke-dasharray="1.1 3.36" fill="none"/>
<path d="M149.6 806.3H372.4M149.6 828.6H372.4M149.6 850.9H372.4M149.6 895.5H372.4M149.6 917.8H372.4M149.6 940.1H372.4" stroke="#d2d2d2" stroke-width="1.1" stroke-dasharray="1.1 3.36" fill="none"/>
<path d="M261 784V962.4M149.6 873.2H372.4" stroke="#8a8a8a" stroke-width="0.9" stroke-dasharray="1.4 0.8" fill="none" opacity="0.55"/>
<path d="M154.06 871.8v2.8M158.51 871.8v2.8M162.97 871.8v2.8M167.42 871.8v2.8M171.88 871v4.4M176.34 871.8v2.8M180.79 871.8v2.8M185.25 871.8v2.8M189.7 871.8v2.8M194.16 871v4.4M198.62 871.8v2.8M203.07 871.8v2.8M207.53 871.8v2.8M211.98 871.8v2.8M216.44 871v4.4M220.9 871.8v2.8M225.35 871.8v2.8M229.81 871.8v2.8M234.26 871.8v2.8M238.72 871v4.4M243.18 871.8v2.8M247.63 871.8v2.8M252.09 871.8v2.8M256.54 871.8v2.8M261 871v4.4M265.46 871.8v2.8M269.91 871.8v2.8M274.37 871.8v2.8M278.82 871.8v2.8M283.28 871v4.4M287.74 871.8v2.8M292.19 871.8v2.8M296.65 871.8v2.8M301.1 871.8v2.8M305.56 871v4.4M310.02 871.8v2.8M314.47 871.8v2.8M318.93 871.8v2.8M323.38 871.8v2.8M327.84 871v4.4M332.3 871.8v2.8M336.75 871.8v2.8M341.21 871.8v2.8M345.66 871.8v2.8M350.12 871v4.4M354.58 871.8v2.8M359.03 871.8v2.8M363.49 871.8v2.8M367.94 871.8v2.8M259.6 788.46h2.8M259.6 792.92h2.8M259.6 797.38h2.8M259.6 801.84h2.8M258.8 806.3h4.4M259.6 810.76h2.8M259.6 815.22h2.8M259.6 819.68h2.8M259.6 824.14h2.8M258.8 828.6h4.4M259.6 833.06h2.8M259.6 837.52h2.8M259.6 841.98h2.8M259.6 846.44h2.8M258.8 850.9h4.4M259.6 855.36h2.8M259.6 859.82h2.8M259.6 864.28h2.8M259.6 868.74h2.8M258.8 873.2h4.4M259.6 877.66h2.8M259.6 882.12h2.8M259.6 886.58h2.8M259.6 891.04h2.8M258.8 895.5h4.4M259.6 899.96h2.8M259.6 904.42h2.8M259.6 908.88h2.8M259.6 913.34h2.8M258.8 917.8h4.4M259.6 922.26h2.8M259.6 926.72h2.8M259.6 931.18h2.8M259.6 935.64h2.8M258.8 940.1h4.4M259.6 944.56h2.8M259.6 949.02h2.8M259.6 953.48h2.8M259.6 957.94h2.8" stroke="#8a8a8a" stroke-width="0.8" fill="none"/>
<path d="M154.06 784v1.5M154.06 962.4v-1.5M158.51 784v1.5M158.51 962.4v-1.5M162.97 784v1.5M162.97 962.4v-1.5M167.42 784v1.5M167.42 962.4v-1.5M171.88 784v2.4M171.88 962.4v-2.4M176.34 784v1.5M176.34 962.4v-1.5M180.79 784v1.5M180.79 962.4v-1.5M185.25 784v1.5M185.25 962.4v-1.5M189.7 784v1.5M189.7 962.4v-1.5M194.16 784v2.4M194.16 962.4v-2.4M198.62 784v1.5M198.62 962.4v-1.5M203.07 784v1.5M203.07 962.4v-1.5M207.53 784v1.5M207.53 962.4v-1.5M211.98 784v1.5M211.98 962.4v-1.5M216.44 784v2.4M216.44 962.4v-2.4M220.9 784v1.5M220.9 962.4v-1.5M225.35 784v1.5M225.35 962.4v-1.5M229.81 784v1.5M229.81 962.4v-1.5M234.26 784v1.5M234.26 962.4v-1.5M238.72 784v2.4M238.72 962.4v-2.4M243.18 784v1.5M243.18 962.4v-1.5M247.63 784v1.5M247.63 962.4v-1.5M252.09 784v1.5M252.09 962.4v-1.5M256.54 784v1.5M256.54 962.4v-1.5M261 784v2.4M261 962.4v-2.4M265.46 784v1.5M265.46 962.4v-1.5M269.91 784v1.5M269.91 962.4v-1.5M274.37 784v1.5M274.37 962.4v-1.5M278.82 784v1.5M278.82 962.4v-1.5M283.28 784v2.4M283.28 962.4v-2.4M287.74 784v1.5M287.74 962.4v-1.5M292.19 784v1.5M292.19 962.4v-1.5M296.65 784v1.5M296.65 962.4v-1.5M301.1 784v1.5M301.1 962.4v-1.5M305.56 784v2.4M305.56 962.4v-2.4M310.02 784v1.5M310.02 962.4v-1.5M314.47 784v1.5M314.47 962.4v-1.5M318.93 784v1.5M318.93 962.4v-1.5M323.38 784v1.5M323.38 962.4v-1.5M327.84 784v2.4M327.84 962.4v-2.4M332.3 784v1.5M332.3 962.4v-1.5M336.75 784v1.5M336.75 962.4v-1.5M341.21 784v1.5M341.21 962.4v-1.5M345.66 784v1.5M345.66 962.4v-1.5M350.12 784v2.4M350.12 962.4v-2.4M354.58 784v1.5M354.58 962.4v-1.5M359.03 784v1.5M359.03 962.4v-1.5M363.49 784v1.5M363.49 962.4v-1.5M367.94 784v1.5M367.94 962.4v-1.5M149.6 788.46h1.5M149.6 792.92h1.5M149.6 797.38h1.5M149.6 801.84h1.5M149.6 806.3h2.4M149.6 810.76h1.5M149.6 815.22h1.5M149.6 819.68h1.5M149.6 824.14h1.5M149.6 828.6h2.4M149.6 833.06h1.5M149.6 837.52h1.5M149.6 841.98h1.5M149.6 846.44h1.5M149.6 850.9h2.4M149.6 855.36h1.5M149.6 859.82h1.5M149.6 864.28h1.5M149.6 868.74h1.5M149.6 873.2h2.4M149.6 877.66h1.5M149.6 882.12h1.5M149.6 886.58h1.5M149.6 891.04h1.5M149.6 895.5h2.4M149.6 899.96h1.5M149.6 904.42h1.5M149.6 908.88h1.5M149.6 913.34h1.5M149.6 917.8h2.4M149.6 922.26h1.5M149.6 926.72h1.5M149.6 931.18h1.5M149.6 935.64h1.5M149.6 940.1h2.4M149.6 944.56h1.5M149.6 949.02h1.5M149.6 953.48h1.5M149.6 957.94h1.5" stroke="#8c8c8c" stroke-width="0.8" fill="none"/>
</g>
<g clip-path="url(#k2)">
<rect x="150.4" y="927.5" width="48" height="14" fill="#8af28a" opacity="0.2"/>
<path d="M150.8 941.4V926.97M152.7 941.4V927.73M154.6 941.4V927.4M156.5 941.4V926.59M158.4 941.4V926.59M160.3 941.4V926.86M162.2 941.4V926.5M164.1 941.4V926.41M166 941.4V925.75M167.9 941.4V926.27M169.8 941.4V927.92M171.7 941.4V925.9M173.6 941.4V926.81M175.5 941.4V927.11M177.4 941.4V927.67M179.3 941.4V926.12M181.2 941.4V926.25M183.1 941.4V926.2M185 941.4V926.56M186.9 941.4V926.67M188.8 941.4V927.89M190.7 941.4V927.64M192.6 941.4V927.69M194.5 941.4V925.65M196.4 941.4V925.68M198.3 941.4V927.3" stroke="#3fe43f" stroke-width="0.9" fill="none" opacity="0.85"/>
<path d="M150.4 939.9H198.6" stroke="#3fe43f" stroke-width="2.8" fill="none"/>
<rect x="333.6" y="927" width="38.8" height="14.5" fill="#8af28a" opacity="0.2"/>
<path d="M334 941.4V927.55M335.9 941.4V926.54M337.8 941.4V926.81M339.7 941.4V925.4M341.6 941.4V926.34M343.5 941.4V927.62M345.4 941.4V927.38M347.3 941.4V927.45M349.2 941.4V927.73M351.1 941.4V926M353 941.4V925.66M354.9 941.4V925.77M356.8 941.4V926.65M358.7 941.4V927.04M360.6 941.4V927.66M362.5 941.4V927.13M364.4 941.4V926.95M366.3 941.4V927.24M368.2 941.4V926.5M370.1 941.4V926.72M372 941.4V925.49" stroke="#3fe43f" stroke-width="0.9" fill="none" opacity="0.85"/>
<path d="M333.4 939.9H372.4" stroke="#3fe43f" stroke-width="2.8" fill="none"/>
<path d="M198.7 940.6L199.8 925L201.8 897" stroke="#3fe43f" stroke-width="1.5" fill="none" opacity="0.9"/>
<path d="M201.4 896.97L202.1 897.08L202.8 896.51L203.5 896.34L204.2 896.54L204.9 895.85L205.6 896.1L206.3 895.69L207 895.46L207.7 895.83L208.4 896.06L209.1 896.06L209.8 896.05L210.5 896.59L211.2 896.2L211.9 896.84L212.6 897.15L213.3 897.67L214 896.87L214.7 897.03L215.4 896.68L216.1 897.94L216.8 897.36L217.5 897.34L218.2 897.23L218.9 897.69L219.6 897.94L220.3 897.47L221 897.83L221.7 898.43L222.4 898.14L223.1 898.7L223.8 897.99L224.5 898.22L225.2 898.51L225.9 898.45L226.6 897.74L227.3 898.05L228 897.19L228.7 897.37L229.4 897.32L230.1 897.1L230.8 897.5L231.5 897.47L232.2 897.72L232.9 898.38L233.6 898.2L234.3 897.31L235 897.68L235.7 897.18L236.4 896.79L237.1 897.25L237.8 896.46L238.5 896.31L239.2 896.33L239.9 896.78L240.6 896.28L241.3 896.62L242 896.83L242.7 896.64L243.4 897.21L244.1 897.27L244.8 896.9L245.5 897.33L246.2 897.7L246.9 897.06L247.6 897.12L248.3 896.7L249 896.96L249.7 896.83L250.4 896.36L251.1 896.34L251.8 896.14L252.5 896.76L253.2 896.35L253.9 896.92L254.6 897.44L255.3 897.59L256 896.98L256.7 897.35L257.4 897.28L258.1 897.16L258.8 897.21L259.5 897.18L260.2 896.42L260.9 896.41L261.6 896.38L262.3 896.21L263 896.29L263.7 896.9L264.4 896.61L265.1 897.32L265.8 896.88L266.5 897.36L267.2 897.01L267.9 897.6L268.6 897.63L269.3 897.02L270 896.78L270.7 896.92L271.4 896.58L272.1 896.5L272.8 896.69L273.5 896.14L274.2 896.61L274.9 896.53L275.6 896.56L276.3 897.06L277 896.91L277.7 897.13L278.4 897.09L279.1 897.1L279.8 897.31L280.5 896.82L281.2 897.02L281.9 896.47L282.6 896.79L283.3 896.34L284 896.82L284.7 896.52L285.4 896.48L286.1 897.08L286.8 896.61L287.5 896.79L288.2 897.51L288.9 897.55L289.6 897.65L290.3 897.06L291 897.28L291.7 897.43L292.4 897.02L293.1 896.75L293.8 896.42L294.5 896.83L295.2 896.44L295.9 896.85L296.6 896.28L297.3 897.11L298 896.54L298.7 896.99L299.4 897.32L300.1 897.05L300.8 897.13L301.5 897.59L302.2 896.95L302.9 896.97L303.6 896.78L304.3 896.5L305 896.88L305.7 896.52L306.4 896.08L307.1 896.2L307.8 896.66L308.5 896.62L309.2 897.02L309.9 897.25L310.6 897.21L311.3 897.43L311.6 897.5L312.4 912L311.3 910.87L310.6 910.59L309.9 911.09L309.2 911.28L308.5 911.49L307.8 911.84L307.1 911.96L306.4 912.21L305.7 912.12L305 911.44L304.3 911.82L303.6 911.13L302.9 911.23L302.2 910.81L301.5 911.17L300.8 910.78L300.1 911.13L299.4 912.27L298.7 912.51L298 912.74L297.3 912.6L296.6 913.14L295.9 912.66L295.2 913.18L294.5 912.58L293.8 912.78L293.1 912.3L292.4 912.27L291.7 911.83L291 912.1L290.3 911.5L289.6 911.83L288.9 911.85L288.2 912L287.5 911.85L286.8 912.64L286.1 912.56L285.4 913.12L284.7 912.81L284 912.78L283.3 912.71L282.6 912.65L281.9 912.25L281.2 912.42L280.5 912.02L279.8 911.6L279.1 912.11L278.4 911.72L277.7 912.1L277 911.72L276.3 912.43L275.6 912.33L274.9 912.43L274.2 912.64L273.5 913.01L272.8 913.28L272.1 912.64L271.4 912.96L270.7 912.81L270 912.63L269.3 911.75L268.6 911.55L267.9 912.13L267.2 911.87L266.5 912.38L265.8 912.41L265.1 912.38L264.4 912.5L263.7 912.83L263 912.61L262.3 912.74L261.6 913.09L260.9 912.84L260.2 912.88L259.5 912.53L258.8 912.39L258.1 912.11L257.4 911.68L256.7 912.03L256 911.59L255.3 911.85L254.6 912.53L253.9 912.29L253.2 912.27L252.5 912.61L251.8 912.67L251.1 913.16L250.4 912.73L249.7 912.83L249 912.81L248.3 912.58L247.6 912.48L246.9 911.92L246.2 911.79L245.5 912.23L244.8 911.72L244.1 912.44L243.4 912.61L242.7 912.1L242 912.55L241.3 912.66L240.6 913.3L239.9 912.8L239.2 913.04L238.5 913.03L237.8 912.12L237.1 912.49L236.4 912.01L235.7 912.26L235 911.62L234.3 911.78L233.6 911.61L232.9 912.39L232.2 912.22L231.5 912.92L230.8 913.11L230.1 912.7L229.4 912.67L228.7 912.81L228 912.94L227.3 912.84L226.6 912.18L225.9 912.56L225.2 912.22L224.5 911.23L223.8 910.51L223.1 910.61L222.4 910.78L221.7 910.91L221 911.53L220.3 911.39L219.6 911.78L218.9 911.74L218.2 911.72L217.5 912.15L216.8 912.14L216.1 911.59L215.4 911.61L214.7 911.31L214 910.86L213.3 910.67L212.6 911L211.9 910.86L211.2 911.06L210.5 911.09L209.8 911.83L209.1 911.45L208.4 912.13L207.7 912.29L207 911.78L206.3 911.94L205.6 911.63L204.9 911.54L204.2 911L203.5 911.22L202.8 910.66L202.1 910.99L201.4 910.66Z" fill="#4ce84c" stroke="#93f393" stroke-width="1.2" stroke-linejoin="round"/>
<path d="M204 898.5V910.5M205.6 898.5V910.5M207.2 898.5V910.5M208.8 898.5V910.5M210.4 898.5V910.5M212 898.5V910.5M213.6 898.5V910.5M215.2 898.5V910.5M216.8 898.5V910.5M218.4 898.5V910.5M220 898.5V910.5M221.6 898.5V910.5M223.2 898.5V910.5M224.8 898.5V910.5M226.4 898.5V910.5M228 898.5V910.5M229.6 898.5V910.5M231.2 898.5V910.5M232.8 898.5V910.5M234.4 898.5V910.5M236 898.5V910.5M237.6 898.5V910.5M239.2 898.5V910.5M240.8 898.5V910.5M242.4 898.5V910.5M244 898.5V910.5M245.6 898.5V910.5M247.2 898.5V910.5M248.8 898.5V910.5M250.4 898.5V910.5M252 898.5V910.5M253.6 898.5V910.5M255.2 898.5V910.5M256.8 898.5V910.5M258.4 898.5V910.5M260 898.5V910.5M261.6 898.5V910.5M263.2 898.5V910.5M264.8 898.5V910.5M266.4 898.5V910.5M268 898.5V910.5M269.6 898.5V910.5M271.2 898.5V910.5M272.8 898.5V910.5M274.4 898.5V910.5M276 898.5V910.5M277.6 898.5V910.5M279.2 898.5V910.5M280.8 898.5V910.5M282.4 898.5V910.5M284 898.5V910.5M285.6 898.5V910.5M287.2 898.5V910.5M288.8 898.5V910.5M290.4 898.5V910.5M292 898.5V910.5M293.6 898.5V910.5M295.2 898.5V910.5M296.8 898.5V910.5M298.4 898.5V910.5M300 898.5V910.5M301.6 898.5V910.5M303.2 898.5V910.5M304.8 898.5V910.5M306.4 898.5V910.5M308 898.5V910.5M309.6 898.5V910.5" stroke="#9af59a" stroke-width="0.5" fill="none" opacity="0.55"/>
<path d="M311.4 898L313 913L313.6 940.6" stroke="#3fe43f" stroke-width="1.1" fill="none" opacity="0.8"/>
<path d="M313.4 940.8H333.4" stroke="#22dd22" stroke-width="2.2" fill="none"/>
<path d="M150.4 829.84L151 830.16L151.6 830.17L152.2 829.97L152.8 829.81L153.4 829.98L154 829.76L154.6 829.78L155.2 829.96L155.8 829.76L156.4 829.97L157 830.01L157.6 829.72L158.2 830.08L158.8 829.75L159.4 830.14L160 830.17L160.6 830.01L161.2 829.73L161.8 830L162.4 829.93L163 830.27L163.6 829.78L164.2 830.21L164.8 830.3L165.4 830.14L166 830.19L166.6 829.82L167.2 830.29L167.8 830L168.4 830.27L169 830.25L169.6 829.8L170.2 830.17L170.8 830.26L171.4 829.74L172 829.91L172.6 830.15L173.2 829.8L173.8 830.24L174.4 829.86L175 830.19L175.6 829.79L176.2 830L176.8 830.25L177.4 829.82L178 829.86L178.6 830L179.2 829.89L179.8 829.72L180.4 829.81L181 829.8L181.6 830.26L182.2 830.11L182.8 830.24L183.4 829.8L184 830.17L184.6 829.77L185.2 830.02L185.8 830.08L186.4 829.92L187 830.22L187.6 830.03L188.2 830.05L188.8 830.23L189.4 829.76L190 830.3L190.6 830.08L191.2 829.94L191.8 830.18L192.4 829.86L193 830.29L193.6 830.05L194.2 829.92L194.8 830.16L195.4 829.97L196 829.81L196.6 830.15L197.2 829.73L197.8 830.19L198.4 829.85L199 831.48L199.6 833.08L200.2 834.24L200.8 835.68L201.4 836.86L202 838.07L202.6 839.02L203.2 839.09L203.8 838.67L204.4 837.63L205 836.87L205.6 836.4L206.2 835.33L206.8 834.86L207.4 834.66L208 833.89L208.6 833.53L209.2 833.45L209.8 833.04L210.4 832.97L211 832.7L211.6 832.74L212.2 832.6L212.8 832.24L213.4 832.39L214 832.2L214.6 831.92L215.2 832.33L215.8 831.85L216.4 831.74L217 831.66L217.6 831.94L218.2 832.05L218.8 831.97L219.4 831.71L220 831.61L220.6 831.44L221.2 831.8L221.8 831.73L222.4 831.59L223 831.76L223.6 831.63L224.2 831.92L224.8 831.79L225.4 831.49L226 831.88L226.6 831.36L227.2 831.65L227.8 831.57L228.4 831.46L229 831.35L229.6 831.78L230.2 831.32L230.8 831.64L231.4 831.87L232 831.39L232.6 831.43L233.2 831.67L233.8 831.61L234.4 831.69L235 831.79L235.6 831.41L236.2 831.49L236.8 831.48L237.4 831.33L238 831.84L238.6 831.77L239.2 831.73L239.8 831.31L240.4 831.81L241 831.75L241.6 831.58L242.2 831.75L242.8 831.57L243.4 831.44L244 831.36L244.6 831.44L245.2 831.32L245.8 831.5L246.4 831.75L247 831.72L247.6 831.81L248.2 831.73L248.8 831.46L249.4 831.63L250 831.56L250.6 831.77L251.2 831.61L251.8 831.46L252.4 831.69L253 831.88L253.6 831.43L254.2 831.83L254.8 831.31L255.4 831.46L256 831.44L256.6 831.75L257.2 831.87L257.8 831.75L258.4 831.5L259 831.83L259.6 831.5L260.2 831.24L260.8 831.64L261.4 831.48L262 831.52L262.6 831.5L263.2 831.69L263.8 831.38L264.4 831.6L265 831.52L265.6 831.61L266.2 831.36L266.8 831.53L267.4 831.44L268 831.28L268.6 831.23L269.2 831.47L269.8 831.15L270.4 831.65L271 831.19L271.6 831.12L272.2 831.16L272.8 831.66L273.4 831.31L274 831.19L274.6 831.12L275.2 831.12L275.8 831.52L276.4 831.48L277 831.52L277.6 831.54L278.2 831.14L278.8 831.45L279.4 831.32L280 831.59L280.6 831.59L281.2 831.63L281.8 831.14L282.4 831.62L283 831.65L283.6 831.67L284.2 831.16L284.8 831.22L285.4 831.17L286 831.12L286.6 831.61L287.2 831.59L287.8 831.48L288.4 831.6L289 831.48L289.6 831.27L290.2 831.16L290.8 831.16L291.4 831.55L292 831.22L292.6 831.29L293.2 831.35L293.8 831.11L294.4 831.25L295 831.27L295.6 831.53L296.2 831.32L296.8 831.29L297.4 831.68L298 831.4L298.6 831.61L299.2 831.47L299.8 831.12L300.4 831.35L301 831.36L301.6 831.56L302.2 831.31L302.8 831.52L303.4 831.42L304 831.23L304.6 831.62L305.2 831.15L305.8 831.59L306.4 831.2L307 831.1L307.6 831.22L308.2 831.56L308.8 831.69L309.4 831.1L310 831.39L310.6 831.39L311.2 831.58L311.8 831.21L312.4 831.4L313 827.59L313.6 822.31L314.2 818.43L314.8 819.35L315.4 819.46L316 819.93L316.6 820.73L317.2 821.12L317.8 821.4L318.4 822.23L319 822.4L319.6 823.34L320.2 823.79L320.8 824.36L321.4 824.77L322 825.12L322.6 825.66L323.2 826.17L323.8 826.97L324.4 827L325 827.99L325.6 827.99L326.2 828.61L326.8 829.15L327.4 830.04L328 830.32L328.6 830.75L329.2 831.57L329.8 831.69L330.4 832.33L331 832.89L331.6 833.53L332.2 834.04L332.8 834.49L333.4 833.88L334 833.44L334.6 832.91L335.2 832.89L335.8 832.35L336.4 831.97L337 831.2L337.6 830.93L338.2 830.71L338.8 830.45L339.4 830.18L340 830.38L340.6 830.63L341.2 830.24L341.8 830.21L342.4 830.28L343 830.52L343.6 830.61L344.2 830.19L344.8 830.19L345.4 830.25L346 830.3L346.6 830.41L347.2 830.2L347.8 830.3L348.4 830.21L349 830.69L349.6 830.54L350.2 830.16L350.8 830.68L351.4 830.16L352 830.33L352.6 830.69L353.2 830.58L353.8 830.54L354.4 830.36L355 830.22L355.6 830.48L356.2 830.16L356.8 830.22L357.4 830.33L358 830.12L358.6 830.34L359.2 830.57L359.8 830.52L360.4 830.4L361 830.48L361.6 830.38L362.2 830.19L362.8 830.46L363.4 830.34L364 830.54L364.6 830.64L365.2 830.36L365.8 830.44L366.4 830.55L367 830.35L367.6 830.24L368.2 830.53L368.8 830.63L369.4 830.56L370 830.52L370.6 830.61L371.2 830.51L371.8 830.48L372.4 830.4" stroke="#1fdde6" stroke-width="2.6" fill="none" stroke-linejoin="round"/>
</g>
<path d="M149.6 962.4H372.4" stroke="#777" stroke-width="1.1" fill="none"/>
<path d="M148.9 784H372.4" stroke="#3a3a3a" stroke-width="1.5" fill="none"/>
<path d="M149.6 783.3V962.9" stroke="#2e2e2e" stroke-width="1.6" fill="none"/>
<path d="M372.4 784V962.4" stroke="#bdbdbd" stroke-width="1.1" stroke-dasharray="1.2 1.6" fill="none"/>
<path d="M258.1 783.2h5.8l-2.9 4.2z" fill="#d9822b"/>
<rect x="197.2" y="787.6" width="5.8" height="6.6" rx="1.6" fill="#e8892b"/>
<path d="M199 789.2v2.6a1.1 1.1 0 0 0 2.2 0v-2.6" stroke="#fff" stroke-width="0.9" fill="none"/>
<path d="M140.6 828.6h6.6l2.2 3.3l-2.2 3.3h-6.6z" fill="#1f9a9a"/>
<text x="143.9" y="834" font-size="5.8" text-anchor="middle" font-weight="bold" fill="#fff">2</text>
<circle cx="144.4" cy="940" r="3.5" fill="#f4fff4" stroke="#3fae3f" stroke-width="0.8"/>
<text x="144.4" y="942.4" font-size="6.4" text-anchor="middle" fill="#3fae3f">4</text>
<path d="M371.4 835l-2.8 2l2.8 2z" fill="#1f8a8a"/>
<text x="212.5" y="759.3" font-size="13" textLength="88.3" lengthAdjust="spacingAndGlyphs" fill="#000">Load Transient</text>
<text x="178.5" y="775.7" font-size="10" textLength="156.4" lengthAdjust="spacingAndGlyphs" fill="#000"><tspan font-size="10">(V</tspan><tspan font-size="7" dy="1.2">IN</tspan><tspan font-size="10" dy="-1.2">=12V, V</tspan><tspan font-size="7" dy="1.2">OUT</tspan><tspan font-size="10" dy="-1.2">=3.3V, </tspan><tspan font-size="10" font-weight="bold">I</tspan><tspan font-size="7" dy="1.2">LOAD</tspan><tspan font-size="10" dy="-1.2">=0.3-3A)</tspan></text>
<text x="206.4" y="818.9" font-size="9" textLength="40.7" lengthAdjust="spacingAndGlyphs" fill="#000"><tspan font-size="9">V</tspan><tspan font-size="6.6">OUT</tspan><tspan font-size="9">(AC)</tspan></text>
<text x="266.1" y="819.2" font-size="9" textLength="47.2" lengthAdjust="spacingAndGlyphs" fill="#000">500mV/div</text>
<text x="228.7" y="892.6" font-size="10.2" fill="#000"><tspan font-size="10.2" font-weight="bold">I</tspan><tspan font-size="6.2" font-weight="bold">L</tspan></text>
<text x="271.9" y="892.6" font-size="9" textLength="28.5" lengthAdjust="spacingAndGlyphs" fill="#000">2A/div</text>
<text x="211.8" y="990" font-size="13" textLength="89.8" lengthAdjust="spacingAndGlyphs" fill="#000">Time (40&#181;s/div)</text>
<clipPath id="k3"><rect x="500.4" y="784" width="217.8" height="179.6"/></clipPath>
<g clip-path="url(#k3)">
<path d="M523.3 785V962.6M545.2 785V962.6M567.1 785V962.6M589 785V962.6M632.8 785V962.6M654.7 785V962.6M676.6 785V962.6M698.5 785V962.6" stroke="#d2d2d2" stroke-width="1.1" stroke-dasharray="1.1 3.34" fill="none"/>
<path d="M501.4 807.2H720.4M501.4 829.4H720.4M501.4 851.6H720.4M501.4 896H720.4M501.4 918.2H720.4M501.4 940.4H720.4" stroke="#d2d2d2" stroke-width="1.1" stroke-dasharray="1.1 3.28" fill="none"/>
<path d="M610.9 785V962.6M501.4 873.8H720.4" stroke="#8a8a8a" stroke-width="0.9" stroke-dasharray="1.4 0.8" fill="none" opacity="0.55"/>
<path d="M505.78 872.4v2.8M510.16 872.4v2.8M514.54 872.4v2.8M518.92 872.4v2.8M523.3 871.6v4.4M527.68 872.4v2.8M532.06 872.4v2.8M536.44 872.4v2.8M540.82 872.4v2.8M545.2 871.6v4.4M549.58 872.4v2.8M553.96 872.4v2.8M558.34 872.4v2.8M562.72 872.4v2.8M567.1 871.6v4.4M571.48 872.4v2.8M575.86 872.4v2.8M580.24 872.4v2.8M584.62 872.4v2.8M589 871.6v4.4M593.38 872.4v2.8M597.76 872.4v2.8M602.14 872.4v2.8M606.52 872.4v2.8M610.9 871.6v4.4M615.28 872.4v2.8M619.66 872.4v2.8M624.04 872.4v2.8M628.42 872.4v2.8M632.8 871.6v4.4M637.18 872.4v2.8M641.56 872.4v2.8M645.94 872.4v2.8M650.32 872.4v2.8M654.7 871.6v4.4M659.08 872.4v2.8M663.46 872.4v2.8M667.84 872.4v2.8M672.22 872.4v2.8M676.6 871.6v4.4M680.98 872.4v2.8M685.36 872.4v2.8M689.74 872.4v2.8M694.12 872.4v2.8M698.5 871.6v4.4M702.88 872.4v2.8M707.26 872.4v2.8M711.64 872.4v2.8M716.02 872.4v2.8M609.5 789.44h2.8M609.5 793.88h2.8M609.5 798.32h2.8M609.5 802.76h2.8M608.7 807.2h4.4M609.5 811.64h2.8M609.5 816.08h2.8M609.5 820.52h2.8M609.5 824.96h2.8M608.7 829.4h4.4M609.5 833.84h2.8M609.5 838.28h2.8M609.5 842.72h2.8M609.5 847.16h2.8M608.7 851.6h4.4M609.5 856.04h2.8M609.5 860.48h2.8M609.5 864.92h2.8M609.5 869.36h2.8M608.7 873.8h4.4M609.5 878.24h2.8M609.5 882.68h2.8M609.5 887.12h2.8M609.5 891.56h2.8M608.7 896h4.4M609.5 900.44h2.8M609.5 904.88h2.8M609.5 909.32h2.8M609.5 913.76h2.8M608.7 918.2h4.4M609.5 922.64h2.8M609.5 927.08h2.8M609.5 931.52h2.8M609.5 935.96h2.8M608.7 940.4h4.4M609.5 944.84h2.8M609.5 949.28h2.8M609.5 953.72h2.8M609.5 958.16h2.8" stroke="#8a8a8a" stroke-width="0.8" fill="none"/>
<path d="M505.78 785v1.5M505.78 962.6v-1.5M510.16 785v1.5M510.16 962.6v-1.5M514.54 785v1.5M514.54 962.6v-1.5M518.92 785v1.5M518.92 962.6v-1.5M523.3 785v2.4M523.3 962.6v-2.4M527.68 785v1.5M527.68 962.6v-1.5M532.06 785v1.5M532.06 962.6v-1.5M536.44 785v1.5M536.44 962.6v-1.5M540.82 785v1.5M540.82 962.6v-1.5M545.2 785v2.4M545.2 962.6v-2.4M549.58 785v1.5M549.58 962.6v-1.5M553.96 785v1.5M553.96 962.6v-1.5M558.34 785v1.5M558.34 962.6v-1.5M562.72 785v1.5M562.72 962.6v-1.5M567.1 785v2.4M567.1 962.6v-2.4M571.48 785v1.5M571.48 962.6v-1.5M575.86 785v1.5M575.86 962.6v-1.5M580.24 785v1.5M580.24 962.6v-1.5M584.62 785v1.5M584.62 962.6v-1.5M589 785v2.4M589 962.6v-2.4M593.38 785v1.5M593.38 962.6v-1.5M597.76 785v1.5M597.76 962.6v-1.5M602.14 785v1.5M602.14 962.6v-1.5M606.52 785v1.5M606.52 962.6v-1.5M610.9 785v2.4M610.9 962.6v-2.4M615.28 785v1.5M615.28 962.6v-1.5M619.66 785v1.5M619.66 962.6v-1.5M624.04 785v1.5M624.04 962.6v-1.5M628.42 785v1.5M628.42 962.6v-1.5M632.8 785v2.4M632.8 962.6v-2.4M637.18 785v1.5M637.18 962.6v-1.5M641.56 785v1.5M641.56 962.6v-1.5M645.94 785v1.5M645.94 962.6v-1.5M650.32 785v1.5M650.32 962.6v-1.5M654.7 785v2.4M654.7 962.6v-2.4M659.08 785v1.5M659.08 962.6v-1.5M663.46 785v1.5M663.46 962.6v-1.5M667.84 785v1.5M667.84 962.6v-1.5M672.22 785v1.5M672.22 962.6v-1.5M676.6 785v2.4M676.6 962.6v-2.4M680.98 785v1.5M680.98 962.6v-1.5M685.36 785v1.5M685.36 962.6v-1.5M689.74 785v1.5M689.74 962.6v-1.5M694.12 785v1.5M694.12 962.6v-1.5M698.5 785v2.4M698.5 962.6v-2.4M702.88 785v1.5M702.88 962.6v-1.5M707.26 785v1.5M707.26 962.6v-1.5M711.64 785v1.5M711.64 962.6v-1.5M716.02 785v1.5M716.02 962.6v-1.5M501.4 789.44h1.5M501.4 793.88h1.5M501.4 798.32h1.5M501.4 802.76h1.5M501.4 807.2h2.4M501.4 811.64h1.5M501.4 816.08h1.5M501.4 820.52h1.5M501.4 824.96h1.5M501.4 829.4h2.4M501.4 833.84h1.5M501.4 838.28h1.5M501.4 842.72h1.5M501.4 847.16h1.5M501.4 851.6h2.4M501.4 856.04h1.5M501.4 860.48h1.5M501.4 864.92h1.5M501.4 869.36h1.5M501.4 873.8h2.4M501.4 878.24h1.5M501.4 882.68h1.5M501.4 887.12h1.5M501.4 891.56h1.5M501.4 896h2.4M501.4 900.44h1.5M501.4 904.88h1.5M501.4 909.32h1.5M501.4 913.76h1.5M501.4 918.2h2.4M501.4 922.64h1.5M501.4 927.08h1.5M501.4 931.52h1.5M501.4 935.96h1.5M501.4 940.4h2.4M501.4 944.84h1.5M501.4 949.28h1.5M501.4 953.72h1.5M501.4 958.16h1.5" stroke="#8c8c8c" stroke-width="0.8" fill="none"/>
</g>
<g clip-path="url(#k3)">
<path d="M502.2 889.35L503 889.53L503.8 889.32L504.6 889.61L505.4 889.15L506.2 889.36L507 889.31L507.8 889.83L508.6 889.55L509.4 889.29L510.2 889.87L511 889.44L511.8 889.68L512.6 889.42L513.4 889.47L514.2 889.62L515 889.54L515.8 889.42L516.6 889.85L517.4 889.58L518.2 889.66L519 889.88L519.8 888.96L520.6 889.3L521.4 889.32L522.2 889.6L523 889.17L523.8 889.64L524.6 889.43L525.4 889.7L526.2 889.11L527 889.68L527.8 889.53L528.6 889.46L529.4 889.86L530.2 889.54L531 889.72L531.8 889.19L532.6 889.03L533.4 889.25L534.2 889.17L535 889.15L535.8 889.09L536.6 889.62L537.4 889.14L538.2 889.38L539 889.54L539.8 889.26L540.6 889.75L541.4 889.73L542.2 889.68L543 889.73L543.8 888.91L544.6 889.85L545.4 889.15L546.2 889.04L547 889.68L547.8 889.05L548.6 889.69L549 889.4L549 922L548.6 921.67L547.8 922.4L547 921.85L546.2 921.73L545.4 921.6L544.6 922.16L543.8 921.51L543 922.13L542.2 921.64L541.4 922.41L540.6 921.56L539.8 922.43L539 922.16L538.2 921.93L537.4 921.8L536.6 921.78L535.8 921.5L535 921.93L534.2 921.88L533.4 922.35L532.6 922.33L531.8 922.05L531 921.97L530.2 922.32L529.4 921.85L528.6 921.73L527.8 921.97L527 922.31L526.2 921.63L525.4 921.89L524.6 921.72L523.8 922.44L523 921.72L522.2 921.85L521.4 921.92L520.6 921.51L519.8 921.77L519 921.86L518.2 921.62L517.4 921.89L516.6 921.71L515.8 921.91L515 922.33L514.2 922.01L513.4 922.04L512.6 921.6L511.8 922.44L511 921.66L510.2 921.54L509.4 921.99L508.6 922.28L507.8 921.68L507 922.18L506.2 922.12L505.4 921.92L504.6 922.13L503.8 922.28L503 921.6L502.2 921.81Z" fill="#9cf49c" opacity="0.9"/>
<path d="M502.2 891.03L505 902.89L507.8 891.03L510.6 902.98L513.4 890.71L516.2 902.83L519 891.01L521.8 902.06L524.6 889.82L527.4 901.73L530.2 889.83L533 902.44L535.8 890.98L538.6 902.99L541.4 890.5L544.2 902.98L547 890.27L549 901.76L549 890.62L549 908.21L549 921.22L547 909.7L544.2 920.8L541.4 909.22L538.6 920.95L535.8 908.17L533 921.06L530.2 908.95L527.4 920.95L524.6 908.95L521.8 920.57L519 909.05L516.2 920.9L513.4 909.01L510.6 920.52L507.8 909.42L505 921.27L502.2 909.13Z" fill="#52e652" opacity="0.72"/>
<path d="M549.2 856.81L550 855.93L550.8 854.78L551.6 853.08L552.4 851.43L553.2 851.17L554 851.59L554.8 851.39L555.6 851.87L556.4 851.72L557.2 852.02L558 851.95L558.8 852.24L559.6 852.29L560.4 853.18L561.2 853.18L562 852.89L562.8 853.35L563.6 853.73L564.4 853.85L565.2 853.86L566 853.8L566.8 853.69L567.6 854.11L568.4 854.29L569.2 854.11L570 854.13L570.8 854.1L571.6 853.71L572.4 853.96L573.2 853.6L574 853.54L574.8 854.41L575.6 853.87L576.4 854.29L577.2 853.76L578 853.92L578.8 853.93L579.6 854.43L580.4 854.07L581.2 853.62L582 854.08L582.8 853.95L583.6 853.89L584.4 854.44L585.2 853.98L586 853.6L586.8 853.71L587.6 853.52L588.4 854.18L589.2 854.47L590 854.37L590.8 853.52L591.6 853.74L592.4 853.69L593.2 854.27L594 854.36L594.8 853.58L595.6 854.21L596.4 854.43L597.2 854.46L598 853.51L598.8 854.15L599.6 853.58L600.4 854.23L601.2 854.36L602 853.56L602.8 854.07L603.6 854.18L604.4 854.3L605.2 854.14L606 853.92L606.8 854.29L607.6 854.28L608.4 853.79L609.2 854.47L610 854.33L610.8 854.11L611.6 854.33L612.4 853.81L613.2 854.39L614 854.18L614.8 854.4L615.6 853.78L616.4 853.76L617.2 854.09L618 854.39L618.8 854.33L619.6 854.37L620.4 853.77L621.2 854.31L622 854.41L622.8 853.59L623.6 854.3L624.4 854.25L625.2 853.73L626 854.18L626.8 853.71L627.6 854.25L628.4 853.96L629.2 854.31L630 853.73L630.8 854.4L631.6 854.02L632.4 854.09L633.2 853.69L634 854.2L634.8 854.06L635.6 854.02L636.4 853.54L637.2 853.87L638 854.13L638.8 853.66L639.6 853.84L640.4 853.52L641.2 854.49L642 853.99L642.8 853.76L643.6 853.93L644.4 854.27L645.2 854.46L646 853.54L646.8 853.68L647.6 853.55L648.4 854.37L649.2 854.45L650 853.56L650.8 853.9L651.6 854.46L652.4 854.06L653.2 854.46L654 853.89L654.8 853.66L655.6 854.49L656.4 853.54L657.2 853.85L657.6 854L657.6 888.8L657.2 889.2L656.4 888.56L655.6 888.52L654.8 889.27L654 888.75L653.2 888.97L652.4 888.94L651.6 888.56L650.8 888.42L650 888.9L649.2 889.21L648.4 888.76L647.6 888.86L646.8 888.38L646 888.5L645.2 888.55L644.4 889.12L643.6 889.25L642.8 889.08L642 888.87L641.2 889.17L640.4 888.33L639.6 888.82L638.8 888.9L638 889.09L637.2 888.41L636.4 889.3L635.6 888.45L634.8 888.7L634 888.66L633.2 888.48L632.4 888.49L631.6 888.78L630.8 889.19L630 888.88L629.2 889.07L628.4 888.39L627.6 889.09L626.8 888.55L626 888.77L625.2 888.91L624.4 889.23L623.6 888.5L622.8 888.85L622 888.65L621.2 888.98L620.4 889.15L619.6 888.87L618.8 889.11L618 888.34L617.2 889.12L616.4 888.72L615.6 888.3L614.8 889.11L614 888.9L613.2 888.68L612.4 888.73L611.6 888.9L610.8 889.28L610 888.63L609.2 889L608.4 888.36L607.6 888.87L606.8 889.24L606 888.69L605.2 888.93L604.4 888.66L603.6 888.44L602.8 888.74L602 888.67L601.2 888.79L600.4 888.47L599.6 888.61L598.8 889.12L598 888.31L597.2 889.02L596.4 888.55L595.6 888.76L594.8 888.93L594 889.03L593.2 889.01L592.4 888.35L591.6 889.03L590.8 889.02L590 888.43L589.2 888.39L588.4 888.42L587.6 888.3L586.8 888.45L586 888.94L585.2 888.71L584.4 889.28L583.6 888.89L582.8 888.31L582 889.22L581.2 889.11L580.4 888.34L579.6 888.35L578.8 888.94L578 888.62L577.2 888.6L576.4 888.86L575.6 889.12L574.8 888.96L574 889.07L573.2 888.48L572.4 889.06L571.6 888.97L570.8 888.98L570 889L569.2 888.92L568.4 889.21L567.6 888.96L566.8 889.22L566 888.31L565.2 888.35L564.4 889.19L563.6 888.34L562.8 888.93L562 888.6L561.2 888.63L560.4 888.95L559.6 888.81L558.8 888.8L558 889.13L557.2 889.13L556.4 888.72L555.6 888.51L554.8 888.83L554 888.67L553.2 888.64L552.4 889.02L551.6 889.2L550.8 888.81L550 888.63L549.2 888.98Z" fill="#9cf49c" opacity="0.9"/>
<path d="M549.2 858.35L552 866.3L554.8 852.75L557.6 867.53L560.4 853.14L563.2 868.24L566 854.68L568.8 868.33L571.6 854.72L574.4 867.32L577.2 854.47L580 867.35L582.8 854.22L585.6 867.43L588.4 855.68L591.2 868.61L594 855.62L596.8 867.84L599.6 855.69L602.4 868.13L605.2 854.74L608 867.88L610.8 854.43L613.6 867.21L616.4 855.09L619.2 868.51L622 854.86L624.8 867.55L627.6 854.74L630.4 867.91L633.2 855.65L636 868.69L638.8 855.63L641.6 867.46L644.4 854.66L647.2 867.44L650 855.79L652.8 868.6L655.6 854.66L657.6 867.21L657.6 854.67L657.6 875.65L657.6 888.16L655.6 875.51L652.8 887.16L650 875.68L647.2 887.58L644.4 874.49L641.6 887.76L638.8 875.15L636 887.09L633.2 874.26L630.4 887.51L627.6 874.35L624.8 888.34L622 874.33L619.2 887.43L616.4 874.31L613.6 888.14L610.8 874.43L608 888.01L605.2 875.4L602.4 887.72L599.6 875.43L596.8 887.16L594 874.3L591.2 888.39L588.4 874.43L585.6 887.06L582.8 875.23L580 888.08L577.2 874.46L574.4 887.77L571.6 874.49L568.8 887.17L566 875.03L563.2 888.08L560.4 874.77L557.6 887.09L554.8 874.08L552 888.26L549.2 876.5Z" fill="#52e652" opacity="0.72"/>
<path d="M658.2 889.38L659 891.17L659.8 892.3L660.6 894.29L661.4 895.67L662.2 896.92L663 898.3L663.8 900.4L664.6 899.37L665.4 898.16L666.2 897.47L667 896.08L667.8 895.48L668.6 894.26L669.4 892.64L670.2 891.88L671 890.43L671.8 889.61L672.6 889.66L673.4 888.82L674.2 889.28L675 889.07L675.8 889.63L676.6 888.96L677.4 889.39L678.2 889.32L679 889.32L679.8 889.51L680.6 889.67L681.4 889.51L682.2 889.55L683 889.67L683.8 889.29L684.6 889.33L685.4 888.82L686.2 889.02L687 888.9L687.8 889.62L688.6 888.9L689.4 889L690.2 889.4L691 889.32L691.8 888.9L692.6 889.52L693.4 888.92L694.2 889.3L695 888.92L695.8 888.94L696.6 889.66L697.4 889.37L698.2 888.96L699 889.74L699.8 889.22L700.6 889.33L701.4 889.74L702.2 889.14L703 889.14L703.8 889.78L704.6 889.71L705.4 889.65L706.2 889.32L707 889.73L707.8 889.22L708.6 889.16L709.4 888.87L710.2 889.3L711 888.94L711.8 889.58L712.6 889.43L713.4 889.68L714.2 888.83L715 889.07L715.8 889.07L716.6 889.72L717.4 889.05L718.2 889.23L718.2 889.3L718.2 921.5L718.2 921.95L717.4 921.52L716.6 921.62L715.8 921.54L715 921.68L714.2 921.64L713.4 921.88L712.6 921.81L711.8 921.94L711 921.97L710.2 921.02L709.4 921.43L708.6 921.53L707.8 921.63L707 921.25L706.2 921.96L705.4 921.05L704.6 921.82L703.8 921.8L703 921.44L702.2 921.24L701.4 921.78L700.6 921.4L699.8 921.84L699 921.39L698.2 921.83L697.4 921.75L696.6 921.15L695.8 921.59L695 921.41L694.2 921.28L693.4 921.49L692.6 921.05L691.8 921.87L691 921.7L690.2 921.58L689.4 921.02L688.6 921.7L687.8 921.03L687 921.25L686.2 921.18L685.4 921.97L684.6 921.54L683.8 921.51L683 921.95L682.2 921.06L681.4 921.38L680.6 921.32L679.8 921.82L679 921.12L678.2 921.45L677.4 921L676.6 921.37L675.8 921.37L675 921.19L674.2 921.87L673.4 922.34L672.6 922.5L671.8 923.43L671 923.98L670.2 924.47L669.4 925.05L668.6 925.1L667.8 926.29L667 926.67L666.2 926.91L665.4 927.82L664.6 927.21L663.8 927.1L663 925.82L662.2 925.47L661.4 925.07L660.6 923.6L659.8 923.5L659 922.07L658.2 921.99Z" fill="#9cf49c" opacity="0.9"/>
<path d="M658.2 890.53L661 906.95L663.8 901.28L666.6 908.91L669.4 894.02L672.2 902.14L675 889.71L677.8 902.03L680.6 889.89L683.4 902.25L686.2 890.48L689 902.42L691.8 890.64L694.6 902.26L697.4 890.25L700.2 901.77L703 890.32L705.8 902.32L708.6 890.06L711.4 901.76L714.2 890.29L717 902.96L718.2 890.74L718.2 901.49L718.2 921.09L718.2 908.07L717 920.17L714.2 908.28L711.4 920.59L708.6 909.2L705.8 919.72L703 908.43L700.2 920.05L697.4 908.32L694.6 920.68L691.8 908.56L689 920.02L686.2 908.73L683.4 921.04L680.6 907.96L677.8 920.16L675 908.29L672.2 921.2L669.4 912.18L666.6 925.47L663.8 916.91L661 922.68L658.2 908.65Z" fill="#52e652" opacity="0.72"/>
<path d="M547.4 921L548.2 889L550.2 852L552.6 852L552 889L549.8 921Z" fill="#9cf49c" opacity="0.85"/>
<path d="M548.6 920L550.4 853" stroke="#52e652" stroke-width="1.3" fill="none" opacity="0.8"/>
<path d="M656.6 855L659.2 855L660.6 924L658 924Z" fill="#9cf49c" opacity="0.85"/>
<path d="M657.8 856L659 922" stroke="#52e652" stroke-width="1.3" fill="none" opacity="0.8"/>
<path d="M549 873.8H658" stroke="#2c8a2c" stroke-width="0.9" stroke-dasharray="1.4 0.8" fill="none" opacity="0.45"/>
<path d="M553.96 872.4v2.8M558.34 872.4v2.8M562.72 872.4v2.8M567.1 871.6v4.4M571.48 872.4v2.8M575.86 872.4v2.8M580.24 872.4v2.8M584.62 872.4v2.8M589 871.6v4.4M593.38 872.4v2.8M597.76 872.4v2.8M602.14 872.4v2.8M606.52 872.4v2.8M610.9 871.6v4.4M615.28 872.4v2.8M619.66 872.4v2.8M624.04 872.4v2.8M628.42 872.4v2.8M632.8 871.6v4.4M637.18 872.4v2.8M641.56 872.4v2.8M645.94 872.4v2.8M650.32 872.4v2.8M654.7 871.6v4.4" stroke="#2c8a2c" stroke-width="0.9" fill="none" opacity="0.5"/>
<path d="M502.2 829.37L502.8 829.18L503.4 829.34L504 829.37L504.6 829.52L505.2 829.2L505.8 829.26L506.4 829.63L507 829.52L507.6 829.23L508.2 829.32L508.8 829.33L509.4 829.49L510 829.46L510.6 829.57L511.2 829.56L511.8 829.41L512.4 829.52L513 829.52L513.6 829.53L514.2 829.39L514.8 829.54L515.4 829.5L516 829.61L516.6 829.21L517.2 829.59L517.8 829.15L518.4 829.53L519 829.44L519.6 829.4L520.2 829.63L520.8 829.44L521.4 829.36L522 829.54L522.6 829.59L523.2 829.45L523.8 829.34L524.4 829.38L525 829.38L525.6 829.51L526.2 829.3L526.8 829.35L527.4 829.43L528 829.34L528.6 829.31L529.2 829.54L529.8 829.57L530.4 829.4L531 829.37L531.6 829.24L532.2 829.3L532.8 829.22L533.4 829.44L534 829.44L534.6 829.19L535.2 829.61L535.8 829.31L536.4 829.57L537 829.57L537.6 829.63L538.2 829.25L538.8 829.36L539.4 829.61L540 829.16L540.6 829.17L541.2 829.43L541.8 829.4L542.4 829.61L543 829.54L543.6 829.42L544.2 829.65L544.8 829.41L545.4 829.41L546 829.49L546.6 829.34L547.2 829.33L547.8 830.71L548.4 832.49L549 834.69L549.6 836.45L550.2 838.28L550.8 839.97L551.4 840.74L552 840.75L552.6 840.83L553.2 840.49L553.8 839.7L554.4 838.91L555 837.94L555.6 837.27L556.2 836.8L556.8 836.49L557.4 835.73L558 835.45L558.6 835.26L559.2 834.64L559.8 834.46L560.4 834.56L561 834.29L561.6 833.96L562.2 833.6L562.8 833.86L563.4 833.64L564 833.6L564.6 833.6L565.2 833.47L565.8 833.16L566.4 832.97L567 832.98L567.6 833.04L568.2 833L568.8 832.81L569.4 832.77L570 832.97L570.6 832.93L571.2 832.78L571.8 833.08L572.4 832.89L573 832.58L573.6 832.75L574.2 832.92L574.8 832.67L575.4 832.86L576 832.51L576.6 832.65L577.2 832.91L577.8 832.78L578.4 832.82L579 832.58L579.6 832.72L580.2 832.75L580.8 832.6L581.4 832.79L582 832.73L582.6 832.96L583.2 832.75L583.8 832.67L584.4 832.52L585 832.54L585.6 832.84L586.2 832.51L586.8 832.51L587.4 832.54L588 832.72L588.6 832.87L589.2 832.76L589.8 832.86L590.4 832.48L591 832.46L591.6 832.84L592.2 832.61L592.8 832.81L593.4 832.63L594 832.54L594.6 832.58L595.2 832.5L595.8 832.9L596.4 832.74L597 832.63L597.6 832.68L598.2 832.64L598.8 832.48L599.4 832.9L600 832.74L600.6 832.93L601.2 832.67L601.8 832.76L602.4 832.57L603 832.47L603.6 832.92L604.2 832.88L604.8 832.61L605.4 832.9L606 832.86L606.6 832.6L607.2 832.75L607.8 832.93L608.4 832.7L609 832.92L609.6 832.57L610.2 832.64L610.8 832.81L611.4 832.56L612 832.6L612.6 832.89L613.2 832.69L613.8 832.85L614.4 832.57L615 832.54L615.6 832.63L616.2 832.54L616.8 832.94L617.4 832.6L618 832.73L618.6 832.51L619.2 832.72L619.8 832.64L620.4 832.65L621 832.48L621.6 832.51L622.2 832.86L622.8 832.63L623.4 832.57L624 832.55L624.6 832.59L625.2 832.57L625.8 832.47L626.4 832.78L627 832.62L627.6 832.53L628.2 832.8L628.8 832.5L629.4 832.58L630 832.87L630.6 832.51L631.2 832.67L631.8 832.87L632.4 832.85L633 832.53L633.6 832.63L634.2 832.81L634.8 832.64L635.4 832.93L636 832.55L636.6 832.93L637.2 832.7L637.8 832.56L638.4 832.68L639 832.52L639.6 832.8L640.2 832.58L640.8 832.9L641.4 832.74L642 832.63L642.6 832.57L643.2 832.75L643.8 832.56L644.4 832.89L645 832.51L645.6 832.71L646.2 832.72L646.8 832.59L647.4 832.84L648 832.64L648.6 832.78L649.2 832.73L649.8 832.61L650.4 832.64L651 832.49L651.6 832.54L652.2 832.88L652.8 832.61L653.4 832.78L654 832.5L654.6 832.73L655.2 832.63L655.8 832.55L656.4 831.27L657 828.95L657.6 826.14L658.2 822.84L658.8 819.65L659.4 817.33L660 815.39L660.6 814.85L661.2 815.1L661.8 815.04L662.4 815.19L663 815.72L663.6 816.31L664.2 817.69L664.8 819.17L665.4 821.27L666 823.1L666.6 824.74L667.2 826.4L667.8 827.89L668.4 828.93L669 829.31L669.6 829.77L670.2 829.53L670.8 829.66L671.4 829.44L672 829.41L672.6 829.81L673.2 829.72L673.8 829.71L674.4 829.37L675 829.37L675.6 829.43L676.2 829.45L676.8 829.5L677.4 829.54L678 829.37L678.6 829.51L679.2 829.67L679.8 829.44L680.4 829.77L681 829.64L681.6 829.71L682.2 829.48L682.8 829.57L683.4 829.69L684 829.52L684.6 829.35L685.2 829.77L685.8 829.74L686.4 829.49L687 829.37L687.6 829.78L688.2 829.65L688.8 829.37L689.4 829.47L690 829.41L690.6 829.75L691.2 829.46L691.8 829.81L692.4 829.72L693 829.39L693.6 829.7L694.2 829.55L694.8 829.72L695.4 829.76L696 829.49L696.6 829.39L697.2 829.82L697.8 829.56L698.4 829.82L699 829.7L699.6 829.72L700.2 829.76L700.8 829.66L701.4 829.58L702 829.38L702.6 829.7L703.2 829.56L703.8 829.61L704.4 829.81L705 829.41L705.6 829.73L706.2 829.37L706.8 829.7L707.4 829.75L708 829.48L708.6 829.62L709.2 829.83L709.8 829.67L710.4 829.62L711 829.47L711.6 829.38L712.2 829.53L712.8 829.56L713.4 829.45L714 829.51L714.6 829.42L715.2 829.7L715.8 829.69L716.4 829.47L717 829.47L717.6 829.61L718.2 829.6" stroke="#1fdde6" stroke-width="3.3" fill="none" stroke-linejoin="round"/>
</g>
<path d="M501.4 962.6H718.2" stroke="#777" stroke-width="1.1" fill="none"/>
<path d="M500.7 785H718.2" stroke="#3a3a3a" stroke-width="1.5" fill="none"/>
<path d="M501.4 784.3V963.1" stroke="#2e2e2e" stroke-width="1.6" fill="none"/>
<path d="M608 784.2h5.8l-2.9 4.2z" fill="#d9822b"/>
<rect x="547.9" y="788.6" width="5.8" height="6.6" rx="1.6" fill="#e8892b"/>
<path d="M549.7 790.2v2.6a1.1 1.1 0 0 0 2.2 0v-2.6" stroke="#fff" stroke-width="0.9" fill="none"/>
<path d="M492.6 827.6h6.4l2.2 3.3l-2.2 3.3h-6.4z" fill="#1f9a9a"/>
<text x="495.8" y="833" font-size="5.8" text-anchor="middle" font-weight="bold" fill="#fff">2</text>
<path d="M492.6 937.2h5.8l2.2 3.5l-2.2 3.5h-5.8z" fill="#f4fff4" stroke="#3fae3f" stroke-width="0.8"/>
<text x="495.5" y="942.9" font-size="5.8" text-anchor="middle" fill="#3fae3f">4</text>
<path d="M718 840l-2.6 1.9l2.6 1.9z" fill="#1f9a9a"/>
<text x="560" y="759.3" font-size="13" textLength="88.3" lengthAdjust="spacingAndGlyphs" fill="#000">Load Transient</text>
<text x="525.1" y="775.7" font-size="10" textLength="156.2" lengthAdjust="spacingAndGlyphs" fill="#000"><tspan font-size="10">(V</tspan><tspan font-size="7" dy="1.2">IN</tspan><tspan font-size="10" dy="-1.2">=12V, V</tspan><tspan font-size="7" dy="1.2">OUT</tspan><tspan font-size="10" dy="-1.2">=3.3V, </tspan><tspan font-size="10">I</tspan><tspan font-size="7" dy="1.2">LOAD</tspan><tspan font-size="10" dy="-1.2">=1.5-3A)</tspan></text>
<text x="548.6" y="812.1" font-size="9" textLength="40.7" lengthAdjust="spacingAndGlyphs" fill="#000"><tspan font-size="9">V</tspan><tspan font-size="6.6">OUT</tspan><tspan font-size="9">(AC)</tspan></text>
<text x="608" y="812.1" font-size="9" textLength="47.4" lengthAdjust="spacingAndGlyphs" fill="#000">200mV/div</text>
<text x="571.6" y="853.1" font-size="9.4" fill="#000"><tspan font-size="9.4" font-weight="bold">I</tspan><tspan font-size="5.6" font-weight="bold">L</tspan></text>
<text x="615.4" y="853.1" font-size="9" textLength="27.2" lengthAdjust="spacingAndGlyphs" fill="#000">1A/div</text>
<text x="557.9" y="990" font-size="13" textLength="90.4" lengthAdjust="spacingAndGlyphs" fill="#000">Time (40&#181;s/div)</text>
</svg>
</body></html>
